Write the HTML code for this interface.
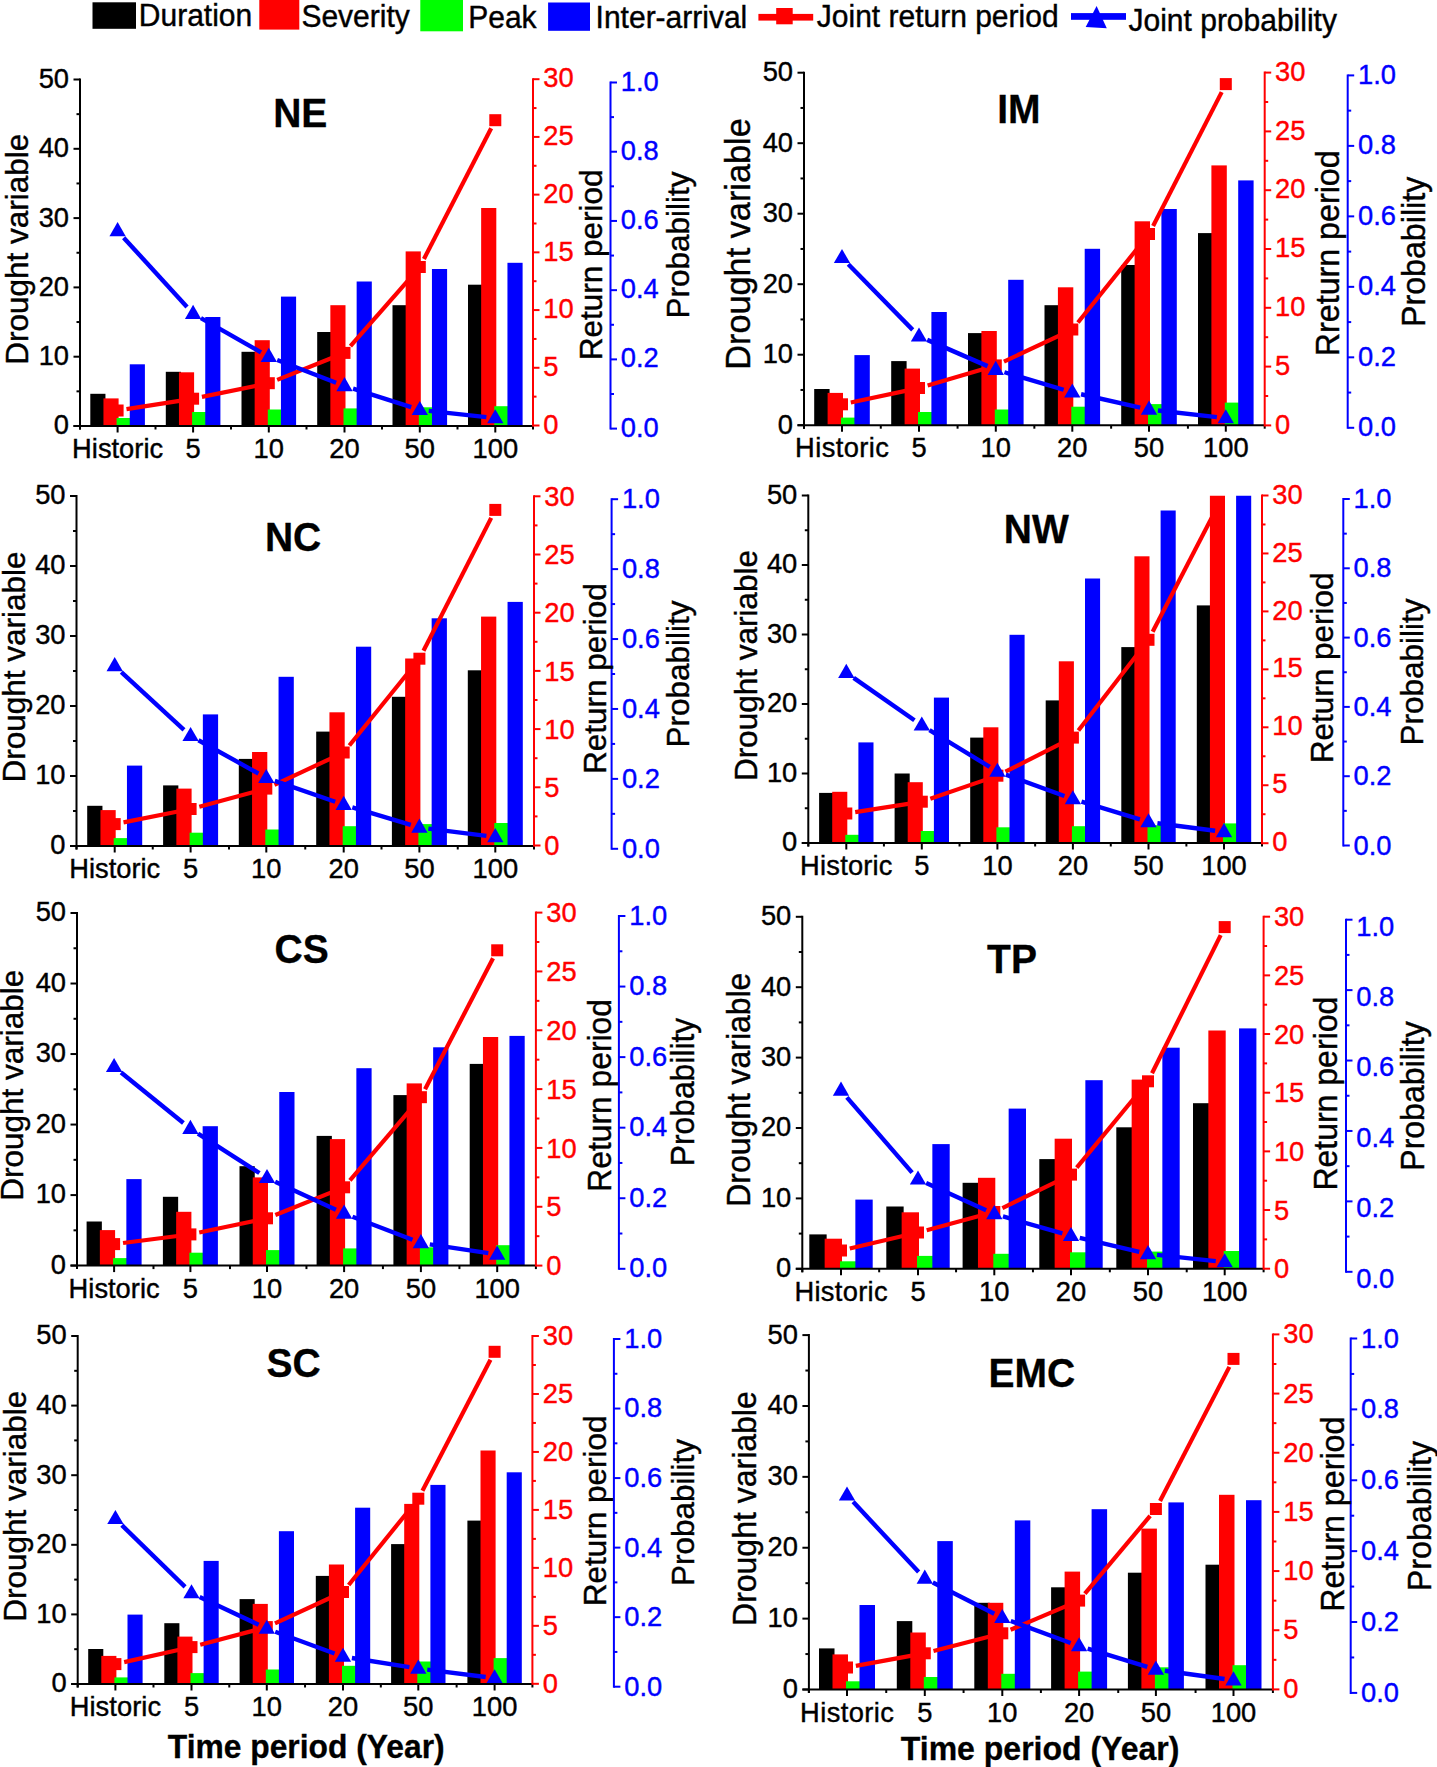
<!DOCTYPE html>
<html><head><meta charset="utf-8"><title>Drought figure</title>
<style>html,body{margin:0;padding:0;background:#fff;}body{width:1437px;height:1767px;overflow:hidden;}svg{display:block;}</style></head><body>
<svg width="1437" height="1767" viewBox="0 0 1437 1767" font-family="'Liberation Sans', Arial, Helvetica, sans-serif">
<rect x="0" y="0" width="1437" height="1767" fill="#ffffff"/>
<rect x="92.5" y="2.3" width="43.5" height="26.5" fill="#000000"/>
<text transform="translate(138.8 26) scale(1 1.02)" font-size="30" fill="#000000" text-anchor="start" stroke="#000000" stroke-width="0.4">Duration</text>
<rect x="259.3" y="0" width="40" height="29.6" fill="#ff0000"/>
<text transform="translate(301.4 26.8) scale(1 1.02)" font-size="30" fill="#000000" text-anchor="start" stroke="#000000" stroke-width="0.4">Severity</text>
<rect x="420.3" y="0" width="42.7" height="31.3" fill="#00ff00"/>
<text transform="translate(468.2 27.6) scale(1 1.02)" font-size="30" fill="#000000" text-anchor="start" stroke="#000000" stroke-width="0.4">Peak</text>
<rect x="548.1" y="2.5" width="41.9" height="28.3" fill="#0000ff"/>
<text transform="translate(595.6 28.2) scale(1 1.02)" font-size="30" fill="#000000" text-anchor="start" stroke="#000000" stroke-width="0.4">Inter-arrival</text>
<rect x="758.4" y="13.9" width="54.8" height="6.7" fill="#ff0000"/>
<rect x="776.2" y="8" width="16.5" height="16.3" fill="#ff0000"/>
<text transform="translate(816.8 27.2) scale(1 1.02)" font-size="30" fill="#000000" text-anchor="start" stroke="#000000" stroke-width="0.4">Joint return period</text>
<rect x="1071" y="13.1" width="55" height="6.7" fill="#0000ff"/>
<polygon points="1096.6,6.1 1085.7,26.9 1106.8,28.2" fill="#0000ff"/>
<text transform="translate(1128.5 30.6) scale(1 1.02)" font-size="30" fill="#000000" text-anchor="start" stroke="#000000" stroke-width="0.4">Joint probability</text>
<rect x="90.3" y="393.8" width="15.15" height="32.2" fill="#000000"/>
<rect x="103.45" y="398.4" width="15.15" height="27.6" fill="#ff0000"/>
<rect x="116.6" y="418" width="15.15" height="8" fill="#00ff00"/>
<rect x="129.75" y="364.3" width="15.15" height="61.7" fill="#0000ff"/>
<rect x="165.8" y="371.8" width="15.15" height="54.2" fill="#000000"/>
<rect x="178.95" y="372.3" width="15.15" height="53.7" fill="#ff0000"/>
<rect x="192.1" y="412" width="15.15" height="14" fill="#00ff00"/>
<rect x="205.25" y="317" width="15.15" height="109" fill="#0000ff"/>
<rect x="241.5" y="351.8" width="15.15" height="74.2" fill="#000000"/>
<rect x="254.65" y="340.2" width="15.15" height="85.8" fill="#ff0000"/>
<rect x="267.8" y="409.5" width="15.15" height="16.5" fill="#00ff00"/>
<rect x="280.95" y="296.6" width="15.15" height="129.4" fill="#0000ff"/>
<rect x="317.2" y="332" width="15.15" height="94" fill="#000000"/>
<rect x="330.35" y="305.2" width="15.15" height="120.8" fill="#ff0000"/>
<rect x="343.5" y="408.4" width="15.15" height="17.6" fill="#00ff00"/>
<rect x="356.65" y="281.5" width="15.15" height="144.5" fill="#0000ff"/>
<rect x="392.5" y="305.2" width="15.15" height="120.8" fill="#000000"/>
<rect x="405.65" y="251.4" width="15.15" height="174.6" fill="#ff0000"/>
<rect x="418.8" y="407.3" width="15.15" height="18.7" fill="#00ff00"/>
<rect x="431.95" y="269" width="15.15" height="157" fill="#0000ff"/>
<rect x="468" y="284.7" width="15.15" height="141.3" fill="#000000"/>
<rect x="481.15" y="208" width="15.15" height="218" fill="#ff0000"/>
<rect x="494.3" y="406.2" width="15.15" height="19.8" fill="#00ff00"/>
<rect x="507.45" y="262.8" width="15.15" height="163.2" fill="#0000ff"/>
<line x1="126.49" y1="409.11" x2="184.21" y2="400.09" stroke="#ff0000" stroke-width="4.2"/>
<line x1="201.92" y1="396.89" x2="259.98" y2="385.01" stroke="#ff0000" stroke-width="4.2"/>
<line x1="277.16" y1="379.86" x2="336.14" y2="356.24" stroke="#ff0000" stroke-width="4.2"/>
<line x1="350.43" y1="346.13" x2="413.87" y2="273.77" stroke="#ff0000" stroke-width="4.2"/>
<line x1="423.92" y1="259" x2="491.18" y2="128.2" stroke="#ff0000" stroke-width="4.2"/>
<rect x="111.6" y="404.5" width="12" height="12" fill="#ff0000"/>
<rect x="187.1" y="392.7" width="12" height="12" fill="#ff0000"/>
<rect x="262.8" y="377.2" width="12" height="12" fill="#ff0000"/>
<rect x="338.5" y="346.9" width="12" height="12" fill="#ff0000"/>
<rect x="413.8" y="261" width="12" height="12" fill="#ff0000"/>
<rect x="489.3" y="114.2" width="12" height="12" fill="#ff0000"/>
<line x1="123.67" y1="237.65" x2="187.03" y2="307.09" stroke="#0000ff" stroke-width="4.4"/>
<line x1="200.93" y1="318.18" x2="260.97" y2="352.29" stroke="#0000ff" stroke-width="4.4"/>
<line x1="277.2" y1="359.97" x2="336.1" y2="382.69" stroke="#0000ff" stroke-width="4.4"/>
<line x1="353.08" y1="388.66" x2="411.22" y2="407.14" stroke="#0000ff" stroke-width="4.4"/>
<line x1="428.75" y1="410.84" x2="486.35" y2="417.12" stroke="#0000ff" stroke-width="4.4"/>
<polygon points="117.6,222.09 109.45,236.21 125.75,236.21" fill="#0000ff"/>
<polygon points="193.1,304.82 184.95,318.94 201.25,318.94" fill="#0000ff"/>
<polygon points="268.8,347.82 260.65,361.94 276.95,361.94" fill="#0000ff"/>
<polygon points="344.5,377.02 336.35,391.14 352.65,391.14" fill="#0000ff"/>
<polygon points="419.8,400.96 411.65,415.07 427.95,415.07" fill="#0000ff"/>
<polygon points="495.3,409.19 487.15,423.31 503.45,423.31" fill="#0000ff"/>
<line x1="80" y1="78.5" x2="80" y2="429.5" stroke="#000000" stroke-width="2"/>
<line x1="73.5" y1="426" x2="80" y2="426" stroke="#000000" stroke-width="2"/>
<text transform="translate(69 434.4) scale(1 1.02)" font-size="27.3" fill="#000000" text-anchor="end" stroke="#000000" stroke-width="0.4">0</text>
<line x1="76.5" y1="391.35" x2="80" y2="391.35" stroke="#000000" stroke-width="2"/>
<line x1="73.5" y1="356.7" x2="80" y2="356.7" stroke="#000000" stroke-width="2"/>
<text transform="translate(69 365.1) scale(1 1.02)" font-size="27.3" fill="#000000" text-anchor="end" stroke="#000000" stroke-width="0.4">10</text>
<line x1="76.5" y1="322.05" x2="80" y2="322.05" stroke="#000000" stroke-width="2"/>
<line x1="73.5" y1="287.4" x2="80" y2="287.4" stroke="#000000" stroke-width="2"/>
<text transform="translate(69 295.8) scale(1 1.02)" font-size="27.3" fill="#000000" text-anchor="end" stroke="#000000" stroke-width="0.4">20</text>
<line x1="76.5" y1="252.75" x2="80" y2="252.75" stroke="#000000" stroke-width="2"/>
<line x1="73.5" y1="218.1" x2="80" y2="218.1" stroke="#000000" stroke-width="2"/>
<text transform="translate(69 226.5) scale(1 1.02)" font-size="27.3" fill="#000000" text-anchor="end" stroke="#000000" stroke-width="0.4">30</text>
<line x1="76.5" y1="183.45" x2="80" y2="183.45" stroke="#000000" stroke-width="2"/>
<line x1="73.5" y1="148.8" x2="80" y2="148.8" stroke="#000000" stroke-width="2"/>
<text transform="translate(69 157.2) scale(1 1.02)" font-size="27.3" fill="#000000" text-anchor="end" stroke="#000000" stroke-width="0.4">40</text>
<line x1="76.5" y1="114.15" x2="80" y2="114.15" stroke="#000000" stroke-width="2"/>
<line x1="73.5" y1="79.5" x2="80" y2="79.5" stroke="#000000" stroke-width="2"/>
<text transform="translate(69 87.9) scale(1 1.02)" font-size="27.3" fill="#000000" text-anchor="end" stroke="#000000" stroke-width="0.4">50</text>
<line x1="73.5" y1="426" x2="533" y2="426" stroke="#000000" stroke-width="2"/>
<line x1="80" y1="426" x2="80" y2="429.5" stroke="#000000" stroke-width="2"/>
<line x1="155.5" y1="426" x2="155.5" y2="429.5" stroke="#000000" stroke-width="2"/>
<line x1="231" y1="426" x2="231" y2="429.5" stroke="#000000" stroke-width="2"/>
<line x1="306.5" y1="426" x2="306.5" y2="429.5" stroke="#000000" stroke-width="2"/>
<line x1="382" y1="426" x2="382" y2="429.5" stroke="#000000" stroke-width="2"/>
<line x1="457.5" y1="426" x2="457.5" y2="429.5" stroke="#000000" stroke-width="2"/>
<line x1="533" y1="426" x2="533" y2="429.5" stroke="#000000" stroke-width="2"/>
<line x1="117.6" y1="426" x2="117.6" y2="432.5" stroke="#000000" stroke-width="2"/>
<text transform="translate(117.6 458.2) scale(1 1.02)" font-size="27.3" fill="#000000" text-anchor="middle" stroke="#000000" stroke-width="0.4" letter-spacing="0">Historic</text>
<line x1="193.1" y1="426" x2="193.1" y2="432.5" stroke="#000000" stroke-width="2"/>
<text transform="translate(193.1 458.2) scale(1 1.02)" font-size="27.3" fill="#000000" text-anchor="middle" stroke="#000000" stroke-width="0.4">5</text>
<line x1="268.8" y1="426" x2="268.8" y2="432.5" stroke="#000000" stroke-width="2"/>
<text transform="translate(268.8 458.2) scale(1 1.02)" font-size="27.3" fill="#000000" text-anchor="middle" stroke="#000000" stroke-width="0.4">10</text>
<line x1="344.5" y1="426" x2="344.5" y2="432.5" stroke="#000000" stroke-width="2"/>
<text transform="translate(344.5 458.2) scale(1 1.02)" font-size="27.3" fill="#000000" text-anchor="middle" stroke="#000000" stroke-width="0.4">20</text>
<line x1="419.8" y1="426" x2="419.8" y2="432.5" stroke="#000000" stroke-width="2"/>
<text transform="translate(419.8 458.2) scale(1 1.02)" font-size="27.3" fill="#000000" text-anchor="middle" stroke="#000000" stroke-width="0.4">50</text>
<line x1="495.3" y1="426" x2="495.3" y2="432.5" stroke="#000000" stroke-width="2"/>
<text transform="translate(495.3 458.2) scale(1 1.02)" font-size="27.3" fill="#000000" text-anchor="middle" stroke="#000000" stroke-width="0.4">100</text>
<line x1="533" y1="78.2" x2="533" y2="426.5" stroke="#ff0000" stroke-width="2"/>
<line x1="533" y1="425.5" x2="539.5" y2="425.5" stroke="#ff0000" stroke-width="2"/>
<text transform="translate(543.3 433.75) scale(1 1.02)" font-size="27.3" fill="#ff0000" text-anchor="start" stroke="#ff0000" stroke-width="0.4">0</text>
<line x1="533" y1="396.64" x2="536.5" y2="396.64" stroke="#ff0000" stroke-width="2"/>
<line x1="533" y1="367.78" x2="539.5" y2="367.78" stroke="#ff0000" stroke-width="2"/>
<text transform="translate(543.3 376.03) scale(1 1.02)" font-size="27.3" fill="#ff0000" text-anchor="start" stroke="#ff0000" stroke-width="0.4">5</text>
<line x1="533" y1="338.93" x2="536.5" y2="338.93" stroke="#ff0000" stroke-width="2"/>
<line x1="533" y1="310.07" x2="539.5" y2="310.07" stroke="#ff0000" stroke-width="2"/>
<text transform="translate(543.3 318.32) scale(1 1.02)" font-size="27.3" fill="#ff0000" text-anchor="start" stroke="#ff0000" stroke-width="0.4">10</text>
<line x1="533" y1="281.21" x2="536.5" y2="281.21" stroke="#ff0000" stroke-width="2"/>
<line x1="533" y1="252.35" x2="539.5" y2="252.35" stroke="#ff0000" stroke-width="2"/>
<text transform="translate(543.3 260.6) scale(1 1.02)" font-size="27.3" fill="#ff0000" text-anchor="start" stroke="#ff0000" stroke-width="0.4">15</text>
<line x1="533" y1="223.49" x2="536.5" y2="223.49" stroke="#ff0000" stroke-width="2"/>
<line x1="533" y1="194.63" x2="539.5" y2="194.63" stroke="#ff0000" stroke-width="2"/>
<text transform="translate(543.3 202.88) scale(1 1.02)" font-size="27.3" fill="#ff0000" text-anchor="start" stroke="#ff0000" stroke-width="0.4">20</text>
<line x1="533" y1="165.77" x2="536.5" y2="165.77" stroke="#ff0000" stroke-width="2"/>
<line x1="533" y1="136.92" x2="539.5" y2="136.92" stroke="#ff0000" stroke-width="2"/>
<text transform="translate(543.3 145.17) scale(1 1.02)" font-size="27.3" fill="#ff0000" text-anchor="start" stroke="#ff0000" stroke-width="0.4">25</text>
<line x1="533" y1="108.06" x2="536.5" y2="108.06" stroke="#ff0000" stroke-width="2"/>
<line x1="533" y1="79.2" x2="539.5" y2="79.2" stroke="#ff0000" stroke-width="2"/>
<text transform="translate(543.3 87.45) scale(1 1.02)" font-size="27.3" fill="#ff0000" text-anchor="start" stroke="#ff0000" stroke-width="0.4">30</text>
<line x1="610.5" y1="81.5" x2="610.5" y2="429.6" stroke="#0000ff" stroke-width="2"/>
<line x1="610.5" y1="428.6" x2="617" y2="428.6" stroke="#0000ff" stroke-width="2"/>
<text transform="translate(620.8 436.7) scale(1 1.02)" font-size="27.3" fill="#0000ff" text-anchor="start" stroke="#0000ff" stroke-width="0.4">0.0</text>
<line x1="610.5" y1="393.99" x2="614" y2="393.99" stroke="#0000ff" stroke-width="2"/>
<line x1="610.5" y1="359.38" x2="617" y2="359.38" stroke="#0000ff" stroke-width="2"/>
<text transform="translate(620.8 367.48) scale(1 1.02)" font-size="27.3" fill="#0000ff" text-anchor="start" stroke="#0000ff" stroke-width="0.4">0.2</text>
<line x1="610.5" y1="324.77" x2="614" y2="324.77" stroke="#0000ff" stroke-width="2"/>
<line x1="610.5" y1="290.16" x2="617" y2="290.16" stroke="#0000ff" stroke-width="2"/>
<text transform="translate(620.8 298.26) scale(1 1.02)" font-size="27.3" fill="#0000ff" text-anchor="start" stroke="#0000ff" stroke-width="0.4">0.4</text>
<line x1="610.5" y1="255.55" x2="614" y2="255.55" stroke="#0000ff" stroke-width="2"/>
<line x1="610.5" y1="220.94" x2="617" y2="220.94" stroke="#0000ff" stroke-width="2"/>
<text transform="translate(620.8 229.04) scale(1 1.02)" font-size="27.3" fill="#0000ff" text-anchor="start" stroke="#0000ff" stroke-width="0.4">0.6</text>
<line x1="610.5" y1="186.33" x2="614" y2="186.33" stroke="#0000ff" stroke-width="2"/>
<line x1="610.5" y1="151.72" x2="617" y2="151.72" stroke="#0000ff" stroke-width="2"/>
<text transform="translate(620.8 159.82) scale(1 1.02)" font-size="27.3" fill="#0000ff" text-anchor="start" stroke="#0000ff" stroke-width="0.4">0.8</text>
<line x1="610.5" y1="117.11" x2="614" y2="117.11" stroke="#0000ff" stroke-width="2"/>
<line x1="610.5" y1="82.5" x2="617" y2="82.5" stroke="#0000ff" stroke-width="2"/>
<text transform="translate(620.8 90.6) scale(1 1.02)" font-size="27.3" fill="#0000ff" text-anchor="start" stroke="#0000ff" stroke-width="0.4">1.0</text>
<text transform="translate(27.7 249.2) rotate(-90) scale(1 1.02)" font-size="31.5" fill="#000000" text-anchor="middle" stroke="#000000" stroke-width="0.4">Drought variable</text>
<text transform="translate(601.9 264.8) rotate(-90) scale(1 1.02)" font-size="31.5" fill="#000000" text-anchor="middle" stroke="#000000" stroke-width="0.4">Return period</text>
<text transform="translate(688.6 245) rotate(-90) scale(1 1.02)" font-size="31.5" fill="#000000" text-anchor="middle" stroke="#000000" stroke-width="0.4">Probability</text>
<text transform="translate(273.2 127.1) scale(1 1.02)" font-size="39" fill="#000000" text-anchor="start" font-weight="bold" stroke="#000000" stroke-width="0.3">NE</text>
<rect x="87.2" y="805.8" width="15.25" height="40.2" fill="#000000"/>
<rect x="100.45" y="810.1" width="15.25" height="35.9" fill="#ff0000"/>
<rect x="113.7" y="838.1" width="15.25" height="7.9" fill="#00ff00"/>
<rect x="126.95" y="765.6" width="15.25" height="80.4" fill="#0000ff"/>
<rect x="163.1" y="785.4" width="15.25" height="60.6" fill="#000000"/>
<rect x="176.35" y="788.6" width="15.25" height="57.4" fill="#ff0000"/>
<rect x="189.6" y="832.7" width="15.25" height="13.3" fill="#00ff00"/>
<rect x="202.85" y="714.4" width="15.25" height="131.6" fill="#0000ff"/>
<rect x="238.8" y="758.9" width="15.25" height="87.1" fill="#000000"/>
<rect x="252.05" y="752" width="15.25" height="94" fill="#ff0000"/>
<rect x="265.3" y="829.5" width="15.25" height="16.5" fill="#00ff00"/>
<rect x="278.55" y="676.8" width="15.25" height="169.2" fill="#0000ff"/>
<rect x="316.2" y="731.6" width="15.25" height="114.4" fill="#000000"/>
<rect x="329.45" y="712.3" width="15.25" height="133.7" fill="#ff0000"/>
<rect x="342.7" y="826.2" width="15.25" height="19.8" fill="#00ff00"/>
<rect x="355.95" y="646.7" width="15.25" height="199.3" fill="#0000ff"/>
<rect x="391.9" y="696.8" width="15.25" height="149.2" fill="#000000"/>
<rect x="405.15" y="658.5" width="15.25" height="187.5" fill="#ff0000"/>
<rect x="418.4" y="824.1" width="15.25" height="21.9" fill="#00ff00"/>
<rect x="431.65" y="618.3" width="15.25" height="227.7" fill="#0000ff"/>
<rect x="467.8" y="670.3" width="15.25" height="175.7" fill="#000000"/>
<rect x="481.05" y="616.6" width="15.25" height="229.4" fill="#ff0000"/>
<rect x="494.3" y="823" width="15.25" height="23" fill="#00ff00"/>
<rect x="507.55" y="601.9" width="15.25" height="244.1" fill="#0000ff"/>
<line x1="123.53" y1="822.34" x2="181.77" y2="810.76" stroke="#ff0000" stroke-width="4.2"/>
<line x1="199.29" y1="806.66" x2="257.61" y2="790.94" stroke="#ff0000" stroke-width="4.2"/>
<line x1="274.46" y1="784.8" x2="335.54" y2="756.3" stroke="#ff0000" stroke-width="4.2"/>
<line x1="349.35" y1="745.5" x2="413.75" y2="665.7" stroke="#ff0000" stroke-width="4.2"/>
<line x1="423.49" y1="650.68" x2="491.21" y2="517.92" stroke="#ff0000" stroke-width="4.2"/>
<rect x="108.7" y="818.1" width="12" height="12" fill="#ff0000"/>
<rect x="184.6" y="803" width="12" height="12" fill="#ff0000"/>
<rect x="260.3" y="782.6" width="12" height="12" fill="#ff0000"/>
<rect x="337.7" y="746.5" width="12" height="12" fill="#ff0000"/>
<rect x="413.4" y="652.7" width="12" height="12" fill="#ff0000"/>
<rect x="489.3" y="503.9" width="12" height="12" fill="#ff0000"/>
<line x1="121.32" y1="672.1" x2="183.98" y2="729.8" stroke="#0000ff" stroke-width="4.4"/>
<line x1="198.47" y1="740.26" x2="258.43" y2="773.5" stroke="#0000ff" stroke-width="4.4"/>
<line x1="274.8" y1="780.81" x2="335.2" y2="801.75" stroke="#0000ff" stroke-width="4.4"/>
<line x1="352.32" y1="807.3" x2="410.78" y2="824.93" stroke="#0000ff" stroke-width="4.4"/>
<line x1="428.33" y1="828.65" x2="486.37" y2="835.89" stroke="#0000ff" stroke-width="4.4"/>
<polygon points="114.7,657.09 106.55,671.21 122.85,671.21" fill="#0000ff"/>
<polygon points="190.6,726.99 182.45,741.11 198.75,741.11" fill="#0000ff"/>
<polygon points="266.3,768.96 258.15,783.07 274.45,783.07" fill="#0000ff"/>
<polygon points="343.7,795.79 335.55,809.91 351.85,809.91" fill="#0000ff"/>
<polygon points="419.4,818.62 411.25,832.74 427.55,832.74" fill="#0000ff"/>
<polygon points="495.3,828.09 487.15,842.21 503.45,842.21" fill="#0000ff"/>
<line x1="76.5" y1="495" x2="76.5" y2="849.5" stroke="#000000" stroke-width="2"/>
<line x1="70" y1="846" x2="76.5" y2="846" stroke="#000000" stroke-width="2"/>
<text transform="translate(65.5 854.4) scale(1 1.02)" font-size="27.3" fill="#000000" text-anchor="end" stroke="#000000" stroke-width="0.4">0</text>
<line x1="73" y1="811" x2="76.5" y2="811" stroke="#000000" stroke-width="2"/>
<line x1="70" y1="776" x2="76.5" y2="776" stroke="#000000" stroke-width="2"/>
<text transform="translate(65.5 784.4) scale(1 1.02)" font-size="27.3" fill="#000000" text-anchor="end" stroke="#000000" stroke-width="0.4">10</text>
<line x1="73" y1="741" x2="76.5" y2="741" stroke="#000000" stroke-width="2"/>
<line x1="70" y1="706" x2="76.5" y2="706" stroke="#000000" stroke-width="2"/>
<text transform="translate(65.5 714.4) scale(1 1.02)" font-size="27.3" fill="#000000" text-anchor="end" stroke="#000000" stroke-width="0.4">20</text>
<line x1="73" y1="671" x2="76.5" y2="671" stroke="#000000" stroke-width="2"/>
<line x1="70" y1="636" x2="76.5" y2="636" stroke="#000000" stroke-width="2"/>
<text transform="translate(65.5 644.4) scale(1 1.02)" font-size="27.3" fill="#000000" text-anchor="end" stroke="#000000" stroke-width="0.4">30</text>
<line x1="73" y1="601" x2="76.5" y2="601" stroke="#000000" stroke-width="2"/>
<line x1="70" y1="566" x2="76.5" y2="566" stroke="#000000" stroke-width="2"/>
<text transform="translate(65.5 574.4) scale(1 1.02)" font-size="27.3" fill="#000000" text-anchor="end" stroke="#000000" stroke-width="0.4">40</text>
<line x1="73" y1="531" x2="76.5" y2="531" stroke="#000000" stroke-width="2"/>
<line x1="70" y1="496" x2="76.5" y2="496" stroke="#000000" stroke-width="2"/>
<text transform="translate(65.5 504.4) scale(1 1.02)" font-size="27.3" fill="#000000" text-anchor="end" stroke="#000000" stroke-width="0.4">50</text>
<line x1="70" y1="846" x2="534" y2="846" stroke="#000000" stroke-width="2"/>
<line x1="76.5" y1="846" x2="76.5" y2="849.5" stroke="#000000" stroke-width="2"/>
<line x1="152.75" y1="846" x2="152.75" y2="849.5" stroke="#000000" stroke-width="2"/>
<line x1="229" y1="846" x2="229" y2="849.5" stroke="#000000" stroke-width="2"/>
<line x1="305.25" y1="846" x2="305.25" y2="849.5" stroke="#000000" stroke-width="2"/>
<line x1="381.5" y1="846" x2="381.5" y2="849.5" stroke="#000000" stroke-width="2"/>
<line x1="457.75" y1="846" x2="457.75" y2="849.5" stroke="#000000" stroke-width="2"/>
<line x1="534" y1="846" x2="534" y2="849.5" stroke="#000000" stroke-width="2"/>
<line x1="114.7" y1="846" x2="114.7" y2="852.5" stroke="#000000" stroke-width="2"/>
<text transform="translate(114.7 878.2) scale(1 1.02)" font-size="27.3" fill="#000000" text-anchor="middle" stroke="#000000" stroke-width="0.4" letter-spacing="0">Historic</text>
<line x1="190.6" y1="846" x2="190.6" y2="852.5" stroke="#000000" stroke-width="2"/>
<text transform="translate(190.6 878.2) scale(1 1.02)" font-size="27.3" fill="#000000" text-anchor="middle" stroke="#000000" stroke-width="0.4">5</text>
<line x1="266.3" y1="846" x2="266.3" y2="852.5" stroke="#000000" stroke-width="2"/>
<text transform="translate(266.3 878.2) scale(1 1.02)" font-size="27.3" fill="#000000" text-anchor="middle" stroke="#000000" stroke-width="0.4">10</text>
<line x1="343.7" y1="846" x2="343.7" y2="852.5" stroke="#000000" stroke-width="2"/>
<text transform="translate(343.7 878.2) scale(1 1.02)" font-size="27.3" fill="#000000" text-anchor="middle" stroke="#000000" stroke-width="0.4">20</text>
<line x1="419.4" y1="846" x2="419.4" y2="852.5" stroke="#000000" stroke-width="2"/>
<text transform="translate(419.4 878.2) scale(1 1.02)" font-size="27.3" fill="#000000" text-anchor="middle" stroke="#000000" stroke-width="0.4">50</text>
<line x1="495.3" y1="846" x2="495.3" y2="852.5" stroke="#000000" stroke-width="2"/>
<text transform="translate(495.3 878.2) scale(1 1.02)" font-size="27.3" fill="#000000" text-anchor="middle" stroke="#000000" stroke-width="0.4">100</text>
<line x1="534" y1="495.3" x2="534" y2="846.5" stroke="#ff0000" stroke-width="2"/>
<line x1="534" y1="845.5" x2="540.5" y2="845.5" stroke="#ff0000" stroke-width="2"/>
<text transform="translate(544.3 855.1) scale(1 1.02)" font-size="27.3" fill="#ff0000" text-anchor="start" stroke="#ff0000" stroke-width="0.4">0</text>
<line x1="534" y1="816.4" x2="537.5" y2="816.4" stroke="#ff0000" stroke-width="2"/>
<line x1="534" y1="787.3" x2="540.5" y2="787.3" stroke="#ff0000" stroke-width="2"/>
<text transform="translate(544.3 796.9) scale(1 1.02)" font-size="27.3" fill="#ff0000" text-anchor="start" stroke="#ff0000" stroke-width="0.4">5</text>
<line x1="534" y1="758.2" x2="537.5" y2="758.2" stroke="#ff0000" stroke-width="2"/>
<line x1="534" y1="729.1" x2="540.5" y2="729.1" stroke="#ff0000" stroke-width="2"/>
<text transform="translate(544.3 738.7) scale(1 1.02)" font-size="27.3" fill="#ff0000" text-anchor="start" stroke="#ff0000" stroke-width="0.4">10</text>
<line x1="534" y1="700" x2="537.5" y2="700" stroke="#ff0000" stroke-width="2"/>
<line x1="534" y1="670.9" x2="540.5" y2="670.9" stroke="#ff0000" stroke-width="2"/>
<text transform="translate(544.3 680.5) scale(1 1.02)" font-size="27.3" fill="#ff0000" text-anchor="start" stroke="#ff0000" stroke-width="0.4">15</text>
<line x1="534" y1="641.8" x2="537.5" y2="641.8" stroke="#ff0000" stroke-width="2"/>
<line x1="534" y1="612.7" x2="540.5" y2="612.7" stroke="#ff0000" stroke-width="2"/>
<text transform="translate(544.3 622.3) scale(1 1.02)" font-size="27.3" fill="#ff0000" text-anchor="start" stroke="#ff0000" stroke-width="0.4">20</text>
<line x1="534" y1="583.6" x2="537.5" y2="583.6" stroke="#ff0000" stroke-width="2"/>
<line x1="534" y1="554.5" x2="540.5" y2="554.5" stroke="#ff0000" stroke-width="2"/>
<text transform="translate(544.3 564.1) scale(1 1.02)" font-size="27.3" fill="#ff0000" text-anchor="start" stroke="#ff0000" stroke-width="0.4">25</text>
<line x1="534" y1="525.4" x2="537.5" y2="525.4" stroke="#ff0000" stroke-width="2"/>
<line x1="534" y1="496.3" x2="540.5" y2="496.3" stroke="#ff0000" stroke-width="2"/>
<text transform="translate(544.3 505.9) scale(1 1.02)" font-size="27.3" fill="#ff0000" text-anchor="start" stroke="#ff0000" stroke-width="0.4">30</text>
<line x1="611.6" y1="498.2" x2="611.6" y2="849.8" stroke="#0000ff" stroke-width="2"/>
<line x1="611.6" y1="848.8" x2="618.1" y2="848.8" stroke="#0000ff" stroke-width="2"/>
<text transform="translate(621.9 857.9) scale(1 1.02)" font-size="27.3" fill="#0000ff" text-anchor="start" stroke="#0000ff" stroke-width="0.4">0.0</text>
<line x1="611.6" y1="813.84" x2="615.1" y2="813.84" stroke="#0000ff" stroke-width="2"/>
<line x1="611.6" y1="778.88" x2="618.1" y2="778.88" stroke="#0000ff" stroke-width="2"/>
<text transform="translate(621.9 787.98) scale(1 1.02)" font-size="27.3" fill="#0000ff" text-anchor="start" stroke="#0000ff" stroke-width="0.4">0.2</text>
<line x1="611.6" y1="743.92" x2="615.1" y2="743.92" stroke="#0000ff" stroke-width="2"/>
<line x1="611.6" y1="708.96" x2="618.1" y2="708.96" stroke="#0000ff" stroke-width="2"/>
<text transform="translate(621.9 718.06) scale(1 1.02)" font-size="27.3" fill="#0000ff" text-anchor="start" stroke="#0000ff" stroke-width="0.4">0.4</text>
<line x1="611.6" y1="674" x2="615.1" y2="674" stroke="#0000ff" stroke-width="2"/>
<line x1="611.6" y1="639.04" x2="618.1" y2="639.04" stroke="#0000ff" stroke-width="2"/>
<text transform="translate(621.9 648.14) scale(1 1.02)" font-size="27.3" fill="#0000ff" text-anchor="start" stroke="#0000ff" stroke-width="0.4">0.6</text>
<line x1="611.6" y1="604.08" x2="615.1" y2="604.08" stroke="#0000ff" stroke-width="2"/>
<line x1="611.6" y1="569.12" x2="618.1" y2="569.12" stroke="#0000ff" stroke-width="2"/>
<text transform="translate(621.9 578.22) scale(1 1.02)" font-size="27.3" fill="#0000ff" text-anchor="start" stroke="#0000ff" stroke-width="0.4">0.8</text>
<line x1="611.6" y1="534.16" x2="615.1" y2="534.16" stroke="#0000ff" stroke-width="2"/>
<line x1="611.6" y1="499.2" x2="618.1" y2="499.2" stroke="#0000ff" stroke-width="2"/>
<text transform="translate(621.9 508.3) scale(1 1.02)" font-size="27.3" fill="#0000ff" text-anchor="start" stroke="#0000ff" stroke-width="0.4">1.0</text>
<text transform="translate(24.6 667) rotate(-90) scale(1 1.02)" font-size="31.5" fill="#000000" text-anchor="middle" stroke="#000000" stroke-width="0.4">Drought variable</text>
<text transform="translate(605.5 678.6) rotate(-90) scale(1 1.02)" font-size="31.5" fill="#000000" text-anchor="middle" stroke="#000000" stroke-width="0.4">Return period</text>
<text transform="translate(688.6 674) rotate(-90) scale(1 1.02)" font-size="31.5" fill="#000000" text-anchor="middle" stroke="#000000" stroke-width="0.4">Probability</text>
<text transform="translate(264.9 551) scale(1 1.02)" font-size="39" fill="#000000" text-anchor="start" font-weight="bold" stroke="#000000" stroke-width="0.3">NC</text>
<rect x="86.6" y="1221.5" width="15.25" height="44.1" fill="#000000"/>
<rect x="99.85" y="1230.1" width="15.25" height="35.5" fill="#ff0000"/>
<rect x="113.1" y="1258.1" width="15.25" height="7.5" fill="#00ff00"/>
<rect x="126.35" y="1179.1" width="15.25" height="86.5" fill="#0000ff"/>
<rect x="162.9" y="1196.8" width="15.25" height="68.8" fill="#000000"/>
<rect x="176.15" y="1211.8" width="15.25" height="53.8" fill="#ff0000"/>
<rect x="189.4" y="1252.7" width="15.25" height="12.9" fill="#00ff00"/>
<rect x="202.65" y="1126.2" width="15.25" height="139.4" fill="#0000ff"/>
<rect x="239.5" y="1166.2" width="15.25" height="99.4" fill="#000000"/>
<rect x="252.75" y="1177.4" width="15.25" height="88.2" fill="#ff0000"/>
<rect x="266" y="1250.1" width="15.25" height="15.5" fill="#00ff00"/>
<rect x="279.25" y="1092" width="15.25" height="173.6" fill="#0000ff"/>
<rect x="316.6" y="1135.9" width="15.25" height="129.7" fill="#000000"/>
<rect x="329.85" y="1139.1" width="15.25" height="126.5" fill="#ff0000"/>
<rect x="343.1" y="1248.4" width="15.25" height="17.2" fill="#00ff00"/>
<rect x="356.35" y="1068.2" width="15.25" height="197.4" fill="#0000ff"/>
<rect x="393.4" y="1095.1" width="15.25" height="170.5" fill="#000000"/>
<rect x="406.65" y="1083.4" width="15.25" height="182.2" fill="#ff0000"/>
<rect x="419.9" y="1247.3" width="15.25" height="18.3" fill="#00ff00"/>
<rect x="433.15" y="1047.3" width="15.25" height="218.3" fill="#0000ff"/>
<rect x="469.7" y="1063.9" width="15.25" height="201.7" fill="#000000"/>
<rect x="482.95" y="1037" width="15.25" height="228.6" fill="#ff0000"/>
<rect x="496.2" y="1245.2" width="15.25" height="20.4" fill="#00ff00"/>
<rect x="509.45" y="1035.9" width="15.25" height="229.7" fill="#0000ff"/>
<line x1="123.03" y1="1242.96" x2="181.47" y2="1235.54" stroke="#ff0000" stroke-width="4.2"/>
<line x1="199.21" y1="1232.55" x2="258.19" y2="1220.15" stroke="#ff0000" stroke-width="4.2"/>
<line x1="275.35" y1="1214.94" x2="335.75" y2="1190.66" stroke="#ff0000" stroke-width="4.2"/>
<line x1="349.94" y1="1180.45" x2="415.06" y2="1104.05" stroke="#ff0000" stroke-width="4.2"/>
<line x1="425.05" y1="1089.21" x2="493.05" y2="958.29" stroke="#ff0000" stroke-width="4.2"/>
<rect x="108.1" y="1238.1" width="12" height="12" fill="#ff0000"/>
<rect x="184.4" y="1228.4" width="12" height="12" fill="#ff0000"/>
<rect x="261" y="1212.3" width="12" height="12" fill="#ff0000"/>
<rect x="338.1" y="1181.3" width="12" height="12" fill="#ff0000"/>
<rect x="414.9" y="1091.2" width="12" height="12" fill="#ff0000"/>
<rect x="491.2" y="944.3" width="12" height="12" fill="#ff0000"/>
<line x1="121.09" y1="1072.57" x2="183.41" y2="1123.07" stroke="#0000ff" stroke-width="4.4"/>
<line x1="197.98" y1="1133.59" x2="259.42" y2="1173.01" stroke="#0000ff" stroke-width="4.4"/>
<line x1="275.17" y1="1181.65" x2="335.93" y2="1209.75" stroke="#0000ff" stroke-width="4.4"/>
<line x1="352.5" y1="1216.76" x2="412.5" y2="1239.78" stroke="#0000ff" stroke-width="4.4"/>
<line x1="429.8" y1="1244.34" x2="488.3" y2="1253.13" stroke="#0000ff" stroke-width="4.4"/>
<polygon points="114.1,1057.99 105.95,1072.11 122.25,1072.11" fill="#0000ff"/>
<polygon points="190.4,1119.82 182.25,1133.94 198.55,1133.94" fill="#0000ff"/>
<polygon points="267,1168.96 258.85,1183.07 275.15,1183.07" fill="#0000ff"/>
<polygon points="344.1,1204.62 335.95,1218.74 352.25,1218.74" fill="#0000ff"/>
<polygon points="420.9,1234.09 412.75,1248.21 429.05,1248.21" fill="#0000ff"/>
<polygon points="497.2,1245.56 489.05,1259.67 505.35,1259.67" fill="#0000ff"/>
<line x1="77" y1="912" x2="77" y2="1269.1" stroke="#000000" stroke-width="2"/>
<line x1="70.5" y1="1265.6" x2="77" y2="1265.6" stroke="#000000" stroke-width="2"/>
<text transform="translate(66 1274) scale(1 1.02)" font-size="27.3" fill="#000000" text-anchor="end" stroke="#000000" stroke-width="0.4">0</text>
<line x1="73.5" y1="1230.34" x2="77" y2="1230.34" stroke="#000000" stroke-width="2"/>
<line x1="70.5" y1="1195.08" x2="77" y2="1195.08" stroke="#000000" stroke-width="2"/>
<text transform="translate(66 1203.48) scale(1 1.02)" font-size="27.3" fill="#000000" text-anchor="end" stroke="#000000" stroke-width="0.4">10</text>
<line x1="73.5" y1="1159.82" x2="77" y2="1159.82" stroke="#000000" stroke-width="2"/>
<line x1="70.5" y1="1124.56" x2="77" y2="1124.56" stroke="#000000" stroke-width="2"/>
<text transform="translate(66 1132.96) scale(1 1.02)" font-size="27.3" fill="#000000" text-anchor="end" stroke="#000000" stroke-width="0.4">20</text>
<line x1="73.5" y1="1089.3" x2="77" y2="1089.3" stroke="#000000" stroke-width="2"/>
<line x1="70.5" y1="1054.04" x2="77" y2="1054.04" stroke="#000000" stroke-width="2"/>
<text transform="translate(66 1062.44) scale(1 1.02)" font-size="27.3" fill="#000000" text-anchor="end" stroke="#000000" stroke-width="0.4">30</text>
<line x1="73.5" y1="1018.78" x2="77" y2="1018.78" stroke="#000000" stroke-width="2"/>
<line x1="70.5" y1="983.52" x2="77" y2="983.52" stroke="#000000" stroke-width="2"/>
<text transform="translate(66 991.92) scale(1 1.02)" font-size="27.3" fill="#000000" text-anchor="end" stroke="#000000" stroke-width="0.4">40</text>
<line x1="73.5" y1="948.26" x2="77" y2="948.26" stroke="#000000" stroke-width="2"/>
<line x1="70.5" y1="913" x2="77" y2="913" stroke="#000000" stroke-width="2"/>
<text transform="translate(66 921.4) scale(1 1.02)" font-size="27.3" fill="#000000" text-anchor="end" stroke="#000000" stroke-width="0.4">50</text>
<line x1="70.5" y1="1265.6" x2="535.9" y2="1265.6" stroke="#000000" stroke-width="2"/>
<line x1="77" y1="1265.6" x2="77" y2="1269.1" stroke="#000000" stroke-width="2"/>
<line x1="153.48" y1="1265.6" x2="153.48" y2="1269.1" stroke="#000000" stroke-width="2"/>
<line x1="229.97" y1="1265.6" x2="229.97" y2="1269.1" stroke="#000000" stroke-width="2"/>
<line x1="306.45" y1="1265.6" x2="306.45" y2="1269.1" stroke="#000000" stroke-width="2"/>
<line x1="382.93" y1="1265.6" x2="382.93" y2="1269.1" stroke="#000000" stroke-width="2"/>
<line x1="459.42" y1="1265.6" x2="459.42" y2="1269.1" stroke="#000000" stroke-width="2"/>
<line x1="535.9" y1="1265.6" x2="535.9" y2="1269.1" stroke="#000000" stroke-width="2"/>
<line x1="114.1" y1="1265.6" x2="114.1" y2="1272.1" stroke="#000000" stroke-width="2"/>
<text transform="translate(114.1 1297.8) scale(1 1.02)" font-size="27.3" fill="#000000" text-anchor="middle" stroke="#000000" stroke-width="0.4" letter-spacing="0">Historic</text>
<line x1="190.4" y1="1265.6" x2="190.4" y2="1272.1" stroke="#000000" stroke-width="2"/>
<text transform="translate(190.4 1297.8) scale(1 1.02)" font-size="27.3" fill="#000000" text-anchor="middle" stroke="#000000" stroke-width="0.4">5</text>
<line x1="267" y1="1265.6" x2="267" y2="1272.1" stroke="#000000" stroke-width="2"/>
<text transform="translate(267 1297.8) scale(1 1.02)" font-size="27.3" fill="#000000" text-anchor="middle" stroke="#000000" stroke-width="0.4">10</text>
<line x1="344.1" y1="1265.6" x2="344.1" y2="1272.1" stroke="#000000" stroke-width="2"/>
<text transform="translate(344.1 1297.8) scale(1 1.02)" font-size="27.3" fill="#000000" text-anchor="middle" stroke="#000000" stroke-width="0.4">20</text>
<line x1="420.9" y1="1265.6" x2="420.9" y2="1272.1" stroke="#000000" stroke-width="2"/>
<text transform="translate(420.9 1297.8) scale(1 1.02)" font-size="27.3" fill="#000000" text-anchor="middle" stroke="#000000" stroke-width="0.4">50</text>
<line x1="497.2" y1="1265.6" x2="497.2" y2="1272.1" stroke="#000000" stroke-width="2"/>
<text transform="translate(497.2 1297.8) scale(1 1.02)" font-size="27.3" fill="#000000" text-anchor="middle" stroke="#000000" stroke-width="0.4">100</text>
<line x1="535.9" y1="911.6" x2="535.9" y2="1266.6" stroke="#ff0000" stroke-width="2"/>
<line x1="535.9" y1="1265.6" x2="542.4" y2="1265.6" stroke="#ff0000" stroke-width="2"/>
<text transform="translate(546.2 1275.2) scale(1 1.02)" font-size="27.3" fill="#ff0000" text-anchor="start" stroke="#ff0000" stroke-width="0.4">0</text>
<line x1="535.9" y1="1236.18" x2="539.4" y2="1236.18" stroke="#ff0000" stroke-width="2"/>
<line x1="535.9" y1="1206.77" x2="542.4" y2="1206.77" stroke="#ff0000" stroke-width="2"/>
<text transform="translate(546.2 1216.37) scale(1 1.02)" font-size="27.3" fill="#ff0000" text-anchor="start" stroke="#ff0000" stroke-width="0.4">5</text>
<line x1="535.9" y1="1177.35" x2="539.4" y2="1177.35" stroke="#ff0000" stroke-width="2"/>
<line x1="535.9" y1="1147.93" x2="542.4" y2="1147.93" stroke="#ff0000" stroke-width="2"/>
<text transform="translate(546.2 1157.53) scale(1 1.02)" font-size="27.3" fill="#ff0000" text-anchor="start" stroke="#ff0000" stroke-width="0.4">10</text>
<line x1="535.9" y1="1118.52" x2="539.4" y2="1118.52" stroke="#ff0000" stroke-width="2"/>
<line x1="535.9" y1="1089.1" x2="542.4" y2="1089.1" stroke="#ff0000" stroke-width="2"/>
<text transform="translate(546.2 1098.7) scale(1 1.02)" font-size="27.3" fill="#ff0000" text-anchor="start" stroke="#ff0000" stroke-width="0.4">15</text>
<line x1="535.9" y1="1059.68" x2="539.4" y2="1059.68" stroke="#ff0000" stroke-width="2"/>
<line x1="535.9" y1="1030.27" x2="542.4" y2="1030.27" stroke="#ff0000" stroke-width="2"/>
<text transform="translate(546.2 1039.87) scale(1 1.02)" font-size="27.3" fill="#ff0000" text-anchor="start" stroke="#ff0000" stroke-width="0.4">20</text>
<line x1="535.9" y1="1000.85" x2="539.4" y2="1000.85" stroke="#ff0000" stroke-width="2"/>
<line x1="535.9" y1="971.43" x2="542.4" y2="971.43" stroke="#ff0000" stroke-width="2"/>
<text transform="translate(546.2 981.03) scale(1 1.02)" font-size="27.3" fill="#ff0000" text-anchor="start" stroke="#ff0000" stroke-width="0.4">25</text>
<line x1="535.9" y1="942.02" x2="539.4" y2="942.02" stroke="#ff0000" stroke-width="2"/>
<line x1="535.9" y1="912.6" x2="542.4" y2="912.6" stroke="#ff0000" stroke-width="2"/>
<text transform="translate(546.2 922.2) scale(1 1.02)" font-size="27.3" fill="#ff0000" text-anchor="start" stroke="#ff0000" stroke-width="0.4">30</text>
<line x1="618.9" y1="915" x2="618.9" y2="1269.8" stroke="#0000ff" stroke-width="2"/>
<line x1="618.9" y1="1268.8" x2="625.4" y2="1268.8" stroke="#0000ff" stroke-width="2"/>
<text transform="translate(629.2 1277.3) scale(1 1.02)" font-size="27.3" fill="#0000ff" text-anchor="start" stroke="#0000ff" stroke-width="0.4">0.0</text>
<line x1="618.9" y1="1233.52" x2="622.4" y2="1233.52" stroke="#0000ff" stroke-width="2"/>
<line x1="618.9" y1="1198.24" x2="625.4" y2="1198.24" stroke="#0000ff" stroke-width="2"/>
<text transform="translate(629.2 1206.74) scale(1 1.02)" font-size="27.3" fill="#0000ff" text-anchor="start" stroke="#0000ff" stroke-width="0.4">0.2</text>
<line x1="618.9" y1="1162.96" x2="622.4" y2="1162.96" stroke="#0000ff" stroke-width="2"/>
<line x1="618.9" y1="1127.68" x2="625.4" y2="1127.68" stroke="#0000ff" stroke-width="2"/>
<text transform="translate(629.2 1136.18) scale(1 1.02)" font-size="27.3" fill="#0000ff" text-anchor="start" stroke="#0000ff" stroke-width="0.4">0.4</text>
<line x1="618.9" y1="1092.4" x2="622.4" y2="1092.4" stroke="#0000ff" stroke-width="2"/>
<line x1="618.9" y1="1057.12" x2="625.4" y2="1057.12" stroke="#0000ff" stroke-width="2"/>
<text transform="translate(629.2 1065.62) scale(1 1.02)" font-size="27.3" fill="#0000ff" text-anchor="start" stroke="#0000ff" stroke-width="0.4">0.6</text>
<line x1="618.9" y1="1021.84" x2="622.4" y2="1021.84" stroke="#0000ff" stroke-width="2"/>
<line x1="618.9" y1="986.56" x2="625.4" y2="986.56" stroke="#0000ff" stroke-width="2"/>
<text transform="translate(629.2 995.06) scale(1 1.02)" font-size="27.3" fill="#0000ff" text-anchor="start" stroke="#0000ff" stroke-width="0.4">0.8</text>
<line x1="618.9" y1="951.28" x2="622.4" y2="951.28" stroke="#0000ff" stroke-width="2"/>
<line x1="618.9" y1="916" x2="625.4" y2="916" stroke="#0000ff" stroke-width="2"/>
<text transform="translate(629.2 924.5) scale(1 1.02)" font-size="27.3" fill="#0000ff" text-anchor="start" stroke="#0000ff" stroke-width="0.4">1.0</text>
<text transform="translate(22.9 1085.2) rotate(-90) scale(1 1.02)" font-size="31.5" fill="#000000" text-anchor="middle" stroke="#000000" stroke-width="0.4">Drought variable</text>
<text transform="translate(610.5 1095.4) rotate(-90) scale(1 1.02)" font-size="31.8" fill="#000000" text-anchor="middle" stroke="#000000" stroke-width="0.4">Return period</text>
<text transform="translate(694.2 1092) rotate(-90) scale(1 1.02)" font-size="31.8" fill="#000000" text-anchor="middle" stroke="#000000" stroke-width="0.4">Probability</text>
<text transform="translate(274.5 962.8) scale(1 1.02)" font-size="39" fill="#000000" text-anchor="start" font-weight="bold" stroke="#000000" stroke-width="0.3">CS</text>
<rect x="88.2" y="1649" width="15.1" height="35" fill="#000000"/>
<rect x="101.3" y="1655.9" width="15.1" height="28.1" fill="#ff0000"/>
<rect x="114.4" y="1677.4" width="15.1" height="6.6" fill="#00ff00"/>
<rect x="127.5" y="1614.6" width="15.1" height="69.4" fill="#0000ff"/>
<rect x="164.3" y="1623.2" width="15.1" height="60.8" fill="#000000"/>
<rect x="177.4" y="1636.6" width="15.1" height="47.4" fill="#ff0000"/>
<rect x="190.5" y="1673.1" width="15.1" height="10.9" fill="#00ff00"/>
<rect x="203.6" y="1560.9" width="15.1" height="123.1" fill="#0000ff"/>
<rect x="239.6" y="1599.1" width="15.1" height="84.9" fill="#000000"/>
<rect x="252.7" y="1603.9" width="15.1" height="80.1" fill="#ff0000"/>
<rect x="265.8" y="1669.5" width="15.1" height="14.5" fill="#00ff00"/>
<rect x="278.9" y="1531.2" width="15.1" height="152.8" fill="#0000ff"/>
<rect x="315.8" y="1575.9" width="15.1" height="108.1" fill="#000000"/>
<rect x="328.9" y="1564.5" width="15.1" height="119.5" fill="#ff0000"/>
<rect x="342" y="1665.8" width="15.1" height="18.2" fill="#00ff00"/>
<rect x="355.1" y="1507.7" width="15.1" height="176.3" fill="#0000ff"/>
<rect x="391.1" y="1544.1" width="15.1" height="139.9" fill="#000000"/>
<rect x="404.2" y="1503.9" width="15.1" height="180.1" fill="#ff0000"/>
<rect x="417.3" y="1661.5" width="15.1" height="22.5" fill="#00ff00"/>
<rect x="430.4" y="1484.9" width="15.1" height="199.1" fill="#0000ff"/>
<rect x="467.4" y="1520.6" width="15.1" height="163.4" fill="#000000"/>
<rect x="480.5" y="1450.5" width="15.1" height="233.5" fill="#ff0000"/>
<rect x="493.6" y="1658.1" width="15.1" height="25.9" fill="#00ff00"/>
<rect x="506.7" y="1472.3" width="15.1" height="211.7" fill="#0000ff"/>
<line x1="124.18" y1="1662.14" x2="182.72" y2="1649.06" stroke="#ff0000" stroke-width="4.2"/>
<line x1="200.2" y1="1644.79" x2="258.1" y2="1629.41" stroke="#ff0000" stroke-width="4.2"/>
<line x1="274.97" y1="1623.33" x2="334.83" y2="1595.77" stroke="#ff0000" stroke-width="4.2"/>
<line x1="348.65" y1="1585" x2="412.65" y2="1505.7" stroke="#ff0000" stroke-width="4.2"/>
<line x1="422.45" y1="1490.71" x2="490.45" y2="1359.79" stroke="#ff0000" stroke-width="4.2"/>
<rect x="109.4" y="1658.1" width="12" height="12" fill="#ff0000"/>
<rect x="185.5" y="1641.1" width="12" height="12" fill="#ff0000"/>
<rect x="260.8" y="1621.1" width="12" height="12" fill="#ff0000"/>
<rect x="337" y="1586" width="12" height="12" fill="#ff0000"/>
<rect x="412.3" y="1492.7" width="12" height="12" fill="#ff0000"/>
<rect x="488.6" y="1345.8" width="12" height="12" fill="#ff0000"/>
<line x1="121.84" y1="1525.18" x2="185.06" y2="1586.82" stroke="#0000ff" stroke-width="4.4"/>
<line x1="199.64" y1="1596.94" x2="258.66" y2="1624.76" stroke="#0000ff" stroke-width="4.4"/>
<line x1="275.25" y1="1631.7" x2="334.55" y2="1653.5" stroke="#0000ff" stroke-width="4.4"/>
<line x1="351.89" y1="1658.01" x2="409.41" y2="1667.12" stroke="#0000ff" stroke-width="4.4"/>
<line x1="427.23" y1="1669.65" x2="485.67" y2="1676.98" stroke="#0000ff" stroke-width="4.4"/>
<polygon points="115.4,1509.99 107.25,1524.11 123.55,1524.11" fill="#0000ff"/>
<polygon points="191.5,1584.19 183.35,1598.31 199.65,1598.31" fill="#0000ff"/>
<polygon points="266.8,1619.69 258.65,1633.81 274.95,1633.81" fill="#0000ff"/>
<polygon points="343,1647.69 334.85,1661.81 351.15,1661.81" fill="#0000ff"/>
<polygon points="418.3,1659.62 410.15,1673.74 426.45,1673.74" fill="#0000ff"/>
<polygon points="494.6,1669.19 486.45,1683.31 502.75,1683.31" fill="#0000ff"/>
<line x1="77.7" y1="1335" x2="77.7" y2="1687.5" stroke="#000000" stroke-width="2"/>
<line x1="71.2" y1="1684" x2="77.7" y2="1684" stroke="#000000" stroke-width="2"/>
<text transform="translate(66.7 1692.4) scale(1 1.02)" font-size="27.3" fill="#000000" text-anchor="end" stroke="#000000" stroke-width="0.4">0</text>
<line x1="74.2" y1="1649.2" x2="77.7" y2="1649.2" stroke="#000000" stroke-width="2"/>
<line x1="71.2" y1="1614.4" x2="77.7" y2="1614.4" stroke="#000000" stroke-width="2"/>
<text transform="translate(66.7 1622.8) scale(1 1.02)" font-size="27.3" fill="#000000" text-anchor="end" stroke="#000000" stroke-width="0.4">10</text>
<line x1="74.2" y1="1579.6" x2="77.7" y2="1579.6" stroke="#000000" stroke-width="2"/>
<line x1="71.2" y1="1544.8" x2="77.7" y2="1544.8" stroke="#000000" stroke-width="2"/>
<text transform="translate(66.7 1553.2) scale(1 1.02)" font-size="27.3" fill="#000000" text-anchor="end" stroke="#000000" stroke-width="0.4">20</text>
<line x1="74.2" y1="1510" x2="77.7" y2="1510" stroke="#000000" stroke-width="2"/>
<line x1="71.2" y1="1475.2" x2="77.7" y2="1475.2" stroke="#000000" stroke-width="2"/>
<text transform="translate(66.7 1483.6) scale(1 1.02)" font-size="27.3" fill="#000000" text-anchor="end" stroke="#000000" stroke-width="0.4">30</text>
<line x1="74.2" y1="1440.4" x2="77.7" y2="1440.4" stroke="#000000" stroke-width="2"/>
<line x1="71.2" y1="1405.6" x2="77.7" y2="1405.6" stroke="#000000" stroke-width="2"/>
<text transform="translate(66.7 1414) scale(1 1.02)" font-size="27.3" fill="#000000" text-anchor="end" stroke="#000000" stroke-width="0.4">40</text>
<line x1="74.2" y1="1370.8" x2="77.7" y2="1370.8" stroke="#000000" stroke-width="2"/>
<line x1="71.2" y1="1336" x2="77.7" y2="1336" stroke="#000000" stroke-width="2"/>
<text transform="translate(66.7 1344.4) scale(1 1.02)" font-size="27.3" fill="#000000" text-anchor="end" stroke="#000000" stroke-width="0.4">50</text>
<line x1="71.2" y1="1684" x2="532.4" y2="1684" stroke="#000000" stroke-width="2"/>
<line x1="77.7" y1="1684" x2="77.7" y2="1687.5" stroke="#000000" stroke-width="2"/>
<line x1="153.48" y1="1684" x2="153.48" y2="1687.5" stroke="#000000" stroke-width="2"/>
<line x1="229.27" y1="1684" x2="229.27" y2="1687.5" stroke="#000000" stroke-width="2"/>
<line x1="305.05" y1="1684" x2="305.05" y2="1687.5" stroke="#000000" stroke-width="2"/>
<line x1="380.83" y1="1684" x2="380.83" y2="1687.5" stroke="#000000" stroke-width="2"/>
<line x1="456.62" y1="1684" x2="456.62" y2="1687.5" stroke="#000000" stroke-width="2"/>
<line x1="532.4" y1="1684" x2="532.4" y2="1687.5" stroke="#000000" stroke-width="2"/>
<line x1="115.4" y1="1684" x2="115.4" y2="1690.5" stroke="#000000" stroke-width="2"/>
<text transform="translate(115.43 1716.2) scale(1 1.02)" font-size="27.3" fill="#000000" text-anchor="middle" stroke="#000000" stroke-width="0.4" letter-spacing="0.05">Historic</text>
<line x1="191.5" y1="1684" x2="191.5" y2="1690.5" stroke="#000000" stroke-width="2"/>
<text transform="translate(191.5 1716.2) scale(1 1.02)" font-size="27.3" fill="#000000" text-anchor="middle" stroke="#000000" stroke-width="0.4">5</text>
<line x1="266.8" y1="1684" x2="266.8" y2="1690.5" stroke="#000000" stroke-width="2"/>
<text transform="translate(266.8 1716.2) scale(1 1.02)" font-size="27.3" fill="#000000" text-anchor="middle" stroke="#000000" stroke-width="0.4">10</text>
<line x1="343" y1="1684" x2="343" y2="1690.5" stroke="#000000" stroke-width="2"/>
<text transform="translate(343 1716.2) scale(1 1.02)" font-size="27.3" fill="#000000" text-anchor="middle" stroke="#000000" stroke-width="0.4">20</text>
<line x1="418.3" y1="1684" x2="418.3" y2="1690.5" stroke="#000000" stroke-width="2"/>
<text transform="translate(418.3 1716.2) scale(1 1.02)" font-size="27.3" fill="#000000" text-anchor="middle" stroke="#000000" stroke-width="0.4">50</text>
<line x1="494.6" y1="1684" x2="494.6" y2="1690.5" stroke="#000000" stroke-width="2"/>
<text transform="translate(494.6 1716.2) scale(1 1.02)" font-size="27.3" fill="#000000" text-anchor="middle" stroke="#000000" stroke-width="0.4">100</text>
<line x1="532.4" y1="1335" x2="532.4" y2="1684.8" stroke="#ff0000" stroke-width="2"/>
<line x1="532.4" y1="1683.8" x2="538.9" y2="1683.8" stroke="#ff0000" stroke-width="2"/>
<text transform="translate(542.7 1692.9) scale(1 1.02)" font-size="27.3" fill="#ff0000" text-anchor="start" stroke="#ff0000" stroke-width="0.4">0</text>
<line x1="532.4" y1="1654.82" x2="535.9" y2="1654.82" stroke="#ff0000" stroke-width="2"/>
<line x1="532.4" y1="1625.83" x2="538.9" y2="1625.83" stroke="#ff0000" stroke-width="2"/>
<text transform="translate(542.7 1634.93) scale(1 1.02)" font-size="27.3" fill="#ff0000" text-anchor="start" stroke="#ff0000" stroke-width="0.4">5</text>
<line x1="532.4" y1="1596.85" x2="535.9" y2="1596.85" stroke="#ff0000" stroke-width="2"/>
<line x1="532.4" y1="1567.87" x2="538.9" y2="1567.87" stroke="#ff0000" stroke-width="2"/>
<text transform="translate(542.7 1576.97) scale(1 1.02)" font-size="27.3" fill="#ff0000" text-anchor="start" stroke="#ff0000" stroke-width="0.4">10</text>
<line x1="532.4" y1="1538.88" x2="535.9" y2="1538.88" stroke="#ff0000" stroke-width="2"/>
<line x1="532.4" y1="1509.9" x2="538.9" y2="1509.9" stroke="#ff0000" stroke-width="2"/>
<text transform="translate(542.7 1519) scale(1 1.02)" font-size="27.3" fill="#ff0000" text-anchor="start" stroke="#ff0000" stroke-width="0.4">15</text>
<line x1="532.4" y1="1480.92" x2="535.9" y2="1480.92" stroke="#ff0000" stroke-width="2"/>
<line x1="532.4" y1="1451.93" x2="538.9" y2="1451.93" stroke="#ff0000" stroke-width="2"/>
<text transform="translate(542.7 1461.03) scale(1 1.02)" font-size="27.3" fill="#ff0000" text-anchor="start" stroke="#ff0000" stroke-width="0.4">20</text>
<line x1="532.4" y1="1422.95" x2="535.9" y2="1422.95" stroke="#ff0000" stroke-width="2"/>
<line x1="532.4" y1="1393.97" x2="538.9" y2="1393.97" stroke="#ff0000" stroke-width="2"/>
<text transform="translate(542.7 1403.07) scale(1 1.02)" font-size="27.3" fill="#ff0000" text-anchor="start" stroke="#ff0000" stroke-width="0.4">25</text>
<line x1="532.4" y1="1364.98" x2="535.9" y2="1364.98" stroke="#ff0000" stroke-width="2"/>
<line x1="532.4" y1="1336" x2="538.9" y2="1336" stroke="#ff0000" stroke-width="2"/>
<text transform="translate(542.7 1345.1) scale(1 1.02)" font-size="27.3" fill="#ff0000" text-anchor="start" stroke="#ff0000" stroke-width="0.4">30</text>
<line x1="613.9" y1="1338" x2="613.9" y2="1687.7" stroke="#0000ff" stroke-width="2"/>
<line x1="613.9" y1="1686.7" x2="620.4" y2="1686.7" stroke="#0000ff" stroke-width="2"/>
<text transform="translate(624.2 1695.6) scale(1 1.02)" font-size="27.3" fill="#0000ff" text-anchor="start" stroke="#0000ff" stroke-width="0.4">0.0</text>
<line x1="613.9" y1="1651.93" x2="617.4" y2="1651.93" stroke="#0000ff" stroke-width="2"/>
<line x1="613.9" y1="1617.16" x2="620.4" y2="1617.16" stroke="#0000ff" stroke-width="2"/>
<text transform="translate(624.2 1626.06) scale(1 1.02)" font-size="27.3" fill="#0000ff" text-anchor="start" stroke="#0000ff" stroke-width="0.4">0.2</text>
<line x1="613.9" y1="1582.39" x2="617.4" y2="1582.39" stroke="#0000ff" stroke-width="2"/>
<line x1="613.9" y1="1547.62" x2="620.4" y2="1547.62" stroke="#0000ff" stroke-width="2"/>
<text transform="translate(624.2 1556.52) scale(1 1.02)" font-size="27.3" fill="#0000ff" text-anchor="start" stroke="#0000ff" stroke-width="0.4">0.4</text>
<line x1="613.9" y1="1512.85" x2="617.4" y2="1512.85" stroke="#0000ff" stroke-width="2"/>
<line x1="613.9" y1="1478.08" x2="620.4" y2="1478.08" stroke="#0000ff" stroke-width="2"/>
<text transform="translate(624.2 1486.98) scale(1 1.02)" font-size="27.3" fill="#0000ff" text-anchor="start" stroke="#0000ff" stroke-width="0.4">0.6</text>
<line x1="613.9" y1="1443.31" x2="617.4" y2="1443.31" stroke="#0000ff" stroke-width="2"/>
<line x1="613.9" y1="1408.54" x2="620.4" y2="1408.54" stroke="#0000ff" stroke-width="2"/>
<text transform="translate(624.2 1417.44) scale(1 1.02)" font-size="27.3" fill="#0000ff" text-anchor="start" stroke="#0000ff" stroke-width="0.4">0.8</text>
<line x1="613.9" y1="1373.77" x2="617.4" y2="1373.77" stroke="#0000ff" stroke-width="2"/>
<line x1="613.9" y1="1339" x2="620.4" y2="1339" stroke="#0000ff" stroke-width="2"/>
<text transform="translate(624.2 1347.9) scale(1 1.02)" font-size="27.3" fill="#0000ff" text-anchor="start" stroke="#0000ff" stroke-width="0.4">1.0</text>
<text transform="translate(26 1506.3) rotate(-90) scale(1 1.02)" font-size="31.5" fill="#000000" text-anchor="middle" stroke="#000000" stroke-width="0.4">Drought variable</text>
<text transform="translate(606 1510.8) rotate(-90) scale(1 1.02)" font-size="31.5" fill="#000000" text-anchor="middle" stroke="#000000" stroke-width="0.4">Return period</text>
<text transform="translate(694.2 1512.5) rotate(-90) scale(1 1.02)" font-size="31.5" fill="#000000" text-anchor="middle" stroke="#000000" stroke-width="0.4">Probability</text>
<text transform="translate(266.4 1377) scale(1 1.02)" font-size="39" fill="#000000" text-anchor="start" font-weight="bold" stroke="#000000" stroke-width="0.3">SC</text>
<rect x="814.2" y="389" width="15.4" height="36.2" fill="#000000"/>
<rect x="827.6" y="392.9" width="15.4" height="32.3" fill="#ff0000"/>
<rect x="841" y="417.6" width="15.4" height="7.6" fill="#00ff00"/>
<rect x="854.4" y="355.1" width="15.4" height="70.1" fill="#0000ff"/>
<rect x="891.2" y="361.1" width="15.4" height="64.1" fill="#000000"/>
<rect x="904.6" y="368.6" width="15.4" height="56.6" fill="#ff0000"/>
<rect x="918" y="412" width="15.4" height="13.2" fill="#00ff00"/>
<rect x="931.4" y="312" width="15.4" height="113.2" fill="#0000ff"/>
<rect x="968" y="333.1" width="15.4" height="92.1" fill="#000000"/>
<rect x="981.4" y="331" width="15.4" height="94.2" fill="#ff0000"/>
<rect x="994.8" y="409.5" width="15.4" height="15.7" fill="#00ff00"/>
<rect x="1008.2" y="279.8" width="15.4" height="145.4" fill="#0000ff"/>
<rect x="1044.5" y="305.2" width="15.4" height="120" fill="#000000"/>
<rect x="1057.9" y="287.3" width="15.4" height="137.9" fill="#ff0000"/>
<rect x="1071.3" y="406.7" width="15.4" height="18.5" fill="#00ff00"/>
<rect x="1084.7" y="248.8" width="15.4" height="176.4" fill="#0000ff"/>
<rect x="1121.2" y="265" width="15.4" height="160.2" fill="#000000"/>
<rect x="1134.6" y="221.3" width="15.4" height="203.9" fill="#ff0000"/>
<rect x="1148" y="404.1" width="15.4" height="21.1" fill="#00ff00"/>
<rect x="1161.4" y="209" width="15.4" height="216.2" fill="#0000ff"/>
<rect x="1198" y="233.1" width="15.4" height="192.1" fill="#000000"/>
<rect x="1211.4" y="165.4" width="15.4" height="259.8" fill="#ff0000"/>
<rect x="1224.8" y="402.6" width="15.4" height="22.6" fill="#00ff00"/>
<rect x="1238.2" y="180.4" width="15.4" height="244.8" fill="#0000ff"/>
<line x1="850.8" y1="402.44" x2="910.2" y2="389.86" stroke="#ff0000" stroke-width="4.2"/>
<line x1="927.63" y1="385.46" x2="987.17" y2="367.94" stroke="#ff0000" stroke-width="4.2"/>
<line x1="1003.95" y1="361.58" x2="1064.15" y2="333.32" stroke="#ff0000" stroke-width="4.2"/>
<line x1="1077.94" y1="322.48" x2="1143.36" y2="241.02" stroke="#ff0000" stroke-width="4.2"/>
<line x1="1153.1" y1="225.99" x2="1221.7" y2="92.11" stroke="#ff0000" stroke-width="4.2"/>
<rect x="836" y="398.3" width="12" height="12" fill="#ff0000"/>
<rect x="913" y="382" width="12" height="12" fill="#ff0000"/>
<rect x="989.8" y="359.4" width="12" height="12" fill="#ff0000"/>
<rect x="1066.3" y="323.5" width="12" height="12" fill="#ff0000"/>
<rect x="1143" y="228" width="12" height="12" fill="#ff0000"/>
<rect x="1219.8" y="78.1" width="12" height="12" fill="#ff0000"/>
<line x1="848.31" y1="264.29" x2="912.69" y2="329.88" stroke="#0000ff" stroke-width="4.4"/>
<line x1="927.25" y1="339.89" x2="987.55" y2="366.11" stroke="#0000ff" stroke-width="4.4"/>
<line x1="1004.43" y1="372.25" x2="1063.67" y2="389.75" stroke="#0000ff" stroke-width="4.4"/>
<line x1="1081.08" y1="394.27" x2="1140.22" y2="407.53" stroke="#0000ff" stroke-width="4.4"/>
<line x1="1157.94" y1="410.5" x2="1216.86" y2="417.1" stroke="#0000ff" stroke-width="4.4"/>
<polygon points="842,248.96 833.85,263.07 850.15,263.07" fill="#0000ff"/>
<polygon points="919,327.39 910.85,341.51 927.15,341.51" fill="#0000ff"/>
<polygon points="995.8,360.79 987.65,374.91 1003.95,374.91" fill="#0000ff"/>
<polygon points="1072.3,383.39 1064.15,397.51 1080.45,397.51" fill="#0000ff"/>
<polygon points="1149,400.59 1140.85,414.71 1157.15,414.71" fill="#0000ff"/>
<polygon points="1225.8,409.19 1217.65,423.31 1233.95,423.31" fill="#0000ff"/>
<line x1="804" y1="71.7" x2="804" y2="428.7" stroke="#000000" stroke-width="2"/>
<line x1="797.5" y1="425.2" x2="804" y2="425.2" stroke="#000000" stroke-width="2"/>
<text transform="translate(793 433.6) scale(1 1.02)" font-size="27.3" fill="#000000" text-anchor="end" stroke="#000000" stroke-width="0.4">0</text>
<line x1="800.5" y1="389.95" x2="804" y2="389.95" stroke="#000000" stroke-width="2"/>
<line x1="797.5" y1="354.7" x2="804" y2="354.7" stroke="#000000" stroke-width="2"/>
<text transform="translate(793 363.1) scale(1 1.02)" font-size="27.3" fill="#000000" text-anchor="end" stroke="#000000" stroke-width="0.4">10</text>
<line x1="800.5" y1="319.45" x2="804" y2="319.45" stroke="#000000" stroke-width="2"/>
<line x1="797.5" y1="284.2" x2="804" y2="284.2" stroke="#000000" stroke-width="2"/>
<text transform="translate(793 292.6) scale(1 1.02)" font-size="27.3" fill="#000000" text-anchor="end" stroke="#000000" stroke-width="0.4">20</text>
<line x1="800.5" y1="248.95" x2="804" y2="248.95" stroke="#000000" stroke-width="2"/>
<line x1="797.5" y1="213.7" x2="804" y2="213.7" stroke="#000000" stroke-width="2"/>
<text transform="translate(793 222.1) scale(1 1.02)" font-size="27.3" fill="#000000" text-anchor="end" stroke="#000000" stroke-width="0.4">30</text>
<line x1="800.5" y1="178.45" x2="804" y2="178.45" stroke="#000000" stroke-width="2"/>
<line x1="797.5" y1="143.2" x2="804" y2="143.2" stroke="#000000" stroke-width="2"/>
<text transform="translate(793 151.6) scale(1 1.02)" font-size="27.3" fill="#000000" text-anchor="end" stroke="#000000" stroke-width="0.4">40</text>
<line x1="800.5" y1="107.95" x2="804" y2="107.95" stroke="#000000" stroke-width="2"/>
<line x1="797.5" y1="72.7" x2="804" y2="72.7" stroke="#000000" stroke-width="2"/>
<text transform="translate(793 81.1) scale(1 1.02)" font-size="27.3" fill="#000000" text-anchor="end" stroke="#000000" stroke-width="0.4">50</text>
<line x1="797.5" y1="425.2" x2="1264.7" y2="425.2" stroke="#000000" stroke-width="2"/>
<line x1="804" y1="425.2" x2="804" y2="428.7" stroke="#000000" stroke-width="2"/>
<line x1="880.78" y1="425.2" x2="880.78" y2="428.7" stroke="#000000" stroke-width="2"/>
<line x1="957.57" y1="425.2" x2="957.57" y2="428.7" stroke="#000000" stroke-width="2"/>
<line x1="1034.35" y1="425.2" x2="1034.35" y2="428.7" stroke="#000000" stroke-width="2"/>
<line x1="1111.13" y1="425.2" x2="1111.13" y2="428.7" stroke="#000000" stroke-width="2"/>
<line x1="1187.92" y1="425.2" x2="1187.92" y2="428.7" stroke="#000000" stroke-width="2"/>
<line x1="1264.7" y1="425.2" x2="1264.7" y2="428.7" stroke="#000000" stroke-width="2"/>
<line x1="842" y1="425.2" x2="842" y2="431.7" stroke="#000000" stroke-width="2"/>
<text transform="translate(842.2 457.4) scale(1 1.02)" font-size="27.3" fill="#000000" text-anchor="middle" stroke="#000000" stroke-width="0.4" letter-spacing="0.4">Historic</text>
<line x1="919" y1="425.2" x2="919" y2="431.7" stroke="#000000" stroke-width="2"/>
<text transform="translate(919 457.4) scale(1 1.02)" font-size="27.3" fill="#000000" text-anchor="middle" stroke="#000000" stroke-width="0.4">5</text>
<line x1="995.8" y1="425.2" x2="995.8" y2="431.7" stroke="#000000" stroke-width="2"/>
<text transform="translate(995.8 457.4) scale(1 1.02)" font-size="27.3" fill="#000000" text-anchor="middle" stroke="#000000" stroke-width="0.4">10</text>
<line x1="1072.3" y1="425.2" x2="1072.3" y2="431.7" stroke="#000000" stroke-width="2"/>
<text transform="translate(1072.3 457.4) scale(1 1.02)" font-size="27.3" fill="#000000" text-anchor="middle" stroke="#000000" stroke-width="0.4">20</text>
<line x1="1149" y1="425.2" x2="1149" y2="431.7" stroke="#000000" stroke-width="2"/>
<text transform="translate(1149 457.4) scale(1 1.02)" font-size="27.3" fill="#000000" text-anchor="middle" stroke="#000000" stroke-width="0.4">50</text>
<line x1="1225.8" y1="425.2" x2="1225.8" y2="431.7" stroke="#000000" stroke-width="2"/>
<text transform="translate(1225.8 457.4) scale(1 1.02)" font-size="27.3" fill="#000000" text-anchor="middle" stroke="#000000" stroke-width="0.4">100</text>
<line x1="1264.7" y1="71.6" x2="1264.7" y2="426.4" stroke="#ff0000" stroke-width="2"/>
<line x1="1264.7" y1="425.4" x2="1271.2" y2="425.4" stroke="#ff0000" stroke-width="2"/>
<text transform="translate(1275 433.65) scale(1 1.02)" font-size="27.3" fill="#ff0000" text-anchor="start" stroke="#ff0000" stroke-width="0.4">0</text>
<line x1="1264.7" y1="396" x2="1268.2" y2="396" stroke="#ff0000" stroke-width="2"/>
<line x1="1264.7" y1="366.6" x2="1271.2" y2="366.6" stroke="#ff0000" stroke-width="2"/>
<text transform="translate(1275 374.85) scale(1 1.02)" font-size="27.3" fill="#ff0000" text-anchor="start" stroke="#ff0000" stroke-width="0.4">5</text>
<line x1="1264.7" y1="337.2" x2="1268.2" y2="337.2" stroke="#ff0000" stroke-width="2"/>
<line x1="1264.7" y1="307.8" x2="1271.2" y2="307.8" stroke="#ff0000" stroke-width="2"/>
<text transform="translate(1275 316.05) scale(1 1.02)" font-size="27.3" fill="#ff0000" text-anchor="start" stroke="#ff0000" stroke-width="0.4">10</text>
<line x1="1264.7" y1="278.4" x2="1268.2" y2="278.4" stroke="#ff0000" stroke-width="2"/>
<line x1="1264.7" y1="249" x2="1271.2" y2="249" stroke="#ff0000" stroke-width="2"/>
<text transform="translate(1275 257.25) scale(1 1.02)" font-size="27.3" fill="#ff0000" text-anchor="start" stroke="#ff0000" stroke-width="0.4">15</text>
<line x1="1264.7" y1="219.6" x2="1268.2" y2="219.6" stroke="#ff0000" stroke-width="2"/>
<line x1="1264.7" y1="190.2" x2="1271.2" y2="190.2" stroke="#ff0000" stroke-width="2"/>
<text transform="translate(1275 198.45) scale(1 1.02)" font-size="27.3" fill="#ff0000" text-anchor="start" stroke="#ff0000" stroke-width="0.4">20</text>
<line x1="1264.7" y1="160.8" x2="1268.2" y2="160.8" stroke="#ff0000" stroke-width="2"/>
<line x1="1264.7" y1="131.4" x2="1271.2" y2="131.4" stroke="#ff0000" stroke-width="2"/>
<text transform="translate(1275 139.65) scale(1 1.02)" font-size="27.3" fill="#ff0000" text-anchor="start" stroke="#ff0000" stroke-width="0.4">25</text>
<line x1="1264.7" y1="102" x2="1268.2" y2="102" stroke="#ff0000" stroke-width="2"/>
<line x1="1264.7" y1="72.6" x2="1271.2" y2="72.6" stroke="#ff0000" stroke-width="2"/>
<text transform="translate(1275 80.85) scale(1 1.02)" font-size="27.3" fill="#ff0000" text-anchor="start" stroke="#ff0000" stroke-width="0.4">30</text>
<line x1="1347.7" y1="74.4" x2="1347.7" y2="428.8" stroke="#0000ff" stroke-width="2"/>
<line x1="1347.7" y1="427.8" x2="1354.2" y2="427.8" stroke="#0000ff" stroke-width="2"/>
<text transform="translate(1358 436.4) scale(1 1.02)" font-size="27.3" fill="#0000ff" text-anchor="start" stroke="#0000ff" stroke-width="0.4">0.0</text>
<line x1="1347.7" y1="392.56" x2="1351.2" y2="392.56" stroke="#0000ff" stroke-width="2"/>
<line x1="1347.7" y1="357.32" x2="1354.2" y2="357.32" stroke="#0000ff" stroke-width="2"/>
<text transform="translate(1358 365.92) scale(1 1.02)" font-size="27.3" fill="#0000ff" text-anchor="start" stroke="#0000ff" stroke-width="0.4">0.2</text>
<line x1="1347.7" y1="322.08" x2="1351.2" y2="322.08" stroke="#0000ff" stroke-width="2"/>
<line x1="1347.7" y1="286.84" x2="1354.2" y2="286.84" stroke="#0000ff" stroke-width="2"/>
<text transform="translate(1358 295.44) scale(1 1.02)" font-size="27.3" fill="#0000ff" text-anchor="start" stroke="#0000ff" stroke-width="0.4">0.4</text>
<line x1="1347.7" y1="251.6" x2="1351.2" y2="251.6" stroke="#0000ff" stroke-width="2"/>
<line x1="1347.7" y1="216.36" x2="1354.2" y2="216.36" stroke="#0000ff" stroke-width="2"/>
<text transform="translate(1358 224.96) scale(1 1.02)" font-size="27.3" fill="#0000ff" text-anchor="start" stroke="#0000ff" stroke-width="0.4">0.6</text>
<line x1="1347.7" y1="181.12" x2="1351.2" y2="181.12" stroke="#0000ff" stroke-width="2"/>
<line x1="1347.7" y1="145.88" x2="1354.2" y2="145.88" stroke="#0000ff" stroke-width="2"/>
<text transform="translate(1358 154.48) scale(1 1.02)" font-size="27.3" fill="#0000ff" text-anchor="start" stroke="#0000ff" stroke-width="0.4">0.8</text>
<line x1="1347.7" y1="110.64" x2="1351.2" y2="110.64" stroke="#0000ff" stroke-width="2"/>
<line x1="1347.7" y1="75.4" x2="1354.2" y2="75.4" stroke="#0000ff" stroke-width="2"/>
<text transform="translate(1358 84) scale(1 1.02)" font-size="27.3" fill="#0000ff" text-anchor="start" stroke="#0000ff" stroke-width="0.4">1.0</text>
<text transform="translate(750.1 244) rotate(-90) scale(1 1.02)" font-size="34.3" fill="#000000" text-anchor="middle" stroke="#000000" stroke-width="0.4">Drought variable</text>
<text transform="translate(1338.6 253.3) rotate(-90) scale(1 1.02)" font-size="32.2" fill="#000000" text-anchor="middle" stroke="#000000" stroke-width="0.4">Rreturn period</text>
<text transform="translate(1425.4 251.9) rotate(-90) scale(1 1.02)" font-size="32.2" fill="#000000" text-anchor="middle" stroke="#000000" stroke-width="0.4">Probability</text>
<text transform="translate(997.2 123.4) scale(1 1.02)" font-size="39" fill="#000000" text-anchor="start" font-weight="bold" stroke="#000000" stroke-width="0.3">IM</text>
<clipPath id="c5"><rect x="808.3" y="495.5" width="453.7" height="349.5"/></clipPath>
<g clip-path="url(#c5)">
<rect x="819.1" y="792.9" width="15.1" height="50.1" fill="#000000"/>
<rect x="832.2" y="791.8" width="15.1" height="51.2" fill="#ff0000"/>
<rect x="845.3" y="834.8" width="15.1" height="8.2" fill="#00ff00"/>
<rect x="858.4" y="742.4" width="15.1" height="100.6" fill="#0000ff"/>
<rect x="894.6" y="773.5" width="15.1" height="69.5" fill="#000000"/>
<rect x="907.7" y="782.2" width="15.1" height="60.8" fill="#ff0000"/>
<rect x="920.8" y="831" width="15.1" height="12" fill="#00ff00"/>
<rect x="933.9" y="697.6" width="15.1" height="145.4" fill="#0000ff"/>
<rect x="970.2" y="737.6" width="15.1" height="105.4" fill="#000000"/>
<rect x="983.3" y="727.3" width="15.1" height="115.7" fill="#ff0000"/>
<rect x="996.4" y="827.3" width="15.1" height="15.7" fill="#00ff00"/>
<rect x="1009.5" y="634.8" width="15.1" height="208.2" fill="#0000ff"/>
<rect x="1045.7" y="700.4" width="15.1" height="142.6" fill="#000000"/>
<rect x="1058.8" y="661.3" width="15.1" height="181.7" fill="#ff0000"/>
<rect x="1071.9" y="826.2" width="15.1" height="16.8" fill="#00ff00"/>
<rect x="1085" y="578.5" width="15.1" height="264.5" fill="#0000ff"/>
<rect x="1121.3" y="647.1" width="15.1" height="195.9" fill="#000000"/>
<rect x="1134.4" y="556.3" width="15.1" height="286.7" fill="#ff0000"/>
<rect x="1147.5" y="825.2" width="15.1" height="17.8" fill="#00ff00"/>
<rect x="1160.6" y="510.5" width="15.1" height="332.5" fill="#0000ff"/>
<rect x="1196.8" y="605.4" width="15.1" height="237.6" fill="#000000"/>
<rect x="1209.9" y="495.5" width="15.1" height="347.5" fill="#ff0000"/>
<rect x="1223" y="823.4" width="15.1" height="19.6" fill="#00ff00"/>
<rect x="1236.1" y="495.5" width="15.1" height="347.5" fill="#0000ff"/>
<line x1="855.19" y1="812.11" x2="912.91" y2="803.09" stroke="#ff0000" stroke-width="4.2"/>
<line x1="930.31" y1="798.77" x2="988.89" y2="778.63" stroke="#ff0000" stroke-width="4.2"/>
<line x1="1005.43" y1="771.65" x2="1064.87" y2="741.65" stroke="#ff0000" stroke-width="4.2"/>
<line x1="1078.4" y1="730.48" x2="1143" y2="646.92" stroke="#ff0000" stroke-width="4.2"/>
<line x1="1152.64" y1="631.81" x2="1219.86" y2="501.99" stroke="#ff0000" stroke-width="4.2"/>
<rect x="840.3" y="807.5" width="12" height="12" fill="#ff0000"/>
<rect x="915.8" y="795.7" width="12" height="12" fill="#ff0000"/>
<rect x="991.4" y="769.7" width="12" height="12" fill="#ff0000"/>
<rect x="1066.9" y="731.6" width="12" height="12" fill="#ff0000"/>
<rect x="1142.5" y="633.8" width="12" height="12" fill="#ff0000"/>
<line x1="853.68" y1="677.85" x2="914.42" y2="720.25" stroke="#0000ff" stroke-width="4.4"/>
<line x1="929.48" y1="730.09" x2="989.72" y2="766.91" stroke="#0000ff" stroke-width="4.4"/>
<line x1="1005.86" y1="774.68" x2="1064.44" y2="795.99" stroke="#0000ff" stroke-width="4.4"/>
<line x1="1081.51" y1="801.69" x2="1139.89" y2="819.45" stroke="#0000ff" stroke-width="4.4"/>
<line x1="1157.42" y1="823.24" x2="1215.08" y2="830.8" stroke="#0000ff" stroke-width="4.4"/>
<polygon points="846.3,663.79 838.15,677.91 854.45,677.91" fill="#0000ff"/>
<polygon points="921.8,716.49 913.65,730.61 929.95,730.61" fill="#0000ff"/>
<polygon points="997.4,762.69 989.25,776.81 1005.55,776.81" fill="#0000ff"/>
<polygon points="1072.9,790.16 1064.75,804.27 1081.05,804.27" fill="#0000ff"/>
<polygon points="1148.5,813.16 1140.35,827.27 1156.65,827.27" fill="#0000ff"/>
<polygon points="1224,823.06 1215.85,837.17 1232.15,837.17" fill="#0000ff"/>
</g>
<line x1="808.3" y1="494.5" x2="808.3" y2="846.5" stroke="#000000" stroke-width="2"/>
<line x1="801.8" y1="843" x2="808.3" y2="843" stroke="#000000" stroke-width="2"/>
<text transform="translate(797.3 851.4) scale(1 1.02)" font-size="27.3" fill="#000000" text-anchor="end" stroke="#000000" stroke-width="0.4">0</text>
<line x1="804.8" y1="808.25" x2="808.3" y2="808.25" stroke="#000000" stroke-width="2"/>
<line x1="801.8" y1="773.5" x2="808.3" y2="773.5" stroke="#000000" stroke-width="2"/>
<text transform="translate(797.3 781.9) scale(1 1.02)" font-size="27.3" fill="#000000" text-anchor="end" stroke="#000000" stroke-width="0.4">10</text>
<line x1="804.8" y1="738.75" x2="808.3" y2="738.75" stroke="#000000" stroke-width="2"/>
<line x1="801.8" y1="704" x2="808.3" y2="704" stroke="#000000" stroke-width="2"/>
<text transform="translate(797.3 712.4) scale(1 1.02)" font-size="27.3" fill="#000000" text-anchor="end" stroke="#000000" stroke-width="0.4">20</text>
<line x1="804.8" y1="669.25" x2="808.3" y2="669.25" stroke="#000000" stroke-width="2"/>
<line x1="801.8" y1="634.5" x2="808.3" y2="634.5" stroke="#000000" stroke-width="2"/>
<text transform="translate(797.3 642.9) scale(1 1.02)" font-size="27.3" fill="#000000" text-anchor="end" stroke="#000000" stroke-width="0.4">30</text>
<line x1="804.8" y1="599.75" x2="808.3" y2="599.75" stroke="#000000" stroke-width="2"/>
<line x1="801.8" y1="565" x2="808.3" y2="565" stroke="#000000" stroke-width="2"/>
<text transform="translate(797.3 573.4) scale(1 1.02)" font-size="27.3" fill="#000000" text-anchor="end" stroke="#000000" stroke-width="0.4">40</text>
<line x1="804.8" y1="530.25" x2="808.3" y2="530.25" stroke="#000000" stroke-width="2"/>
<line x1="801.8" y1="495.5" x2="808.3" y2="495.5" stroke="#000000" stroke-width="2"/>
<text transform="translate(797.3 503.9) scale(1 1.02)" font-size="27.3" fill="#000000" text-anchor="end" stroke="#000000" stroke-width="0.4">50</text>
<line x1="801.8" y1="843" x2="1262" y2="843" stroke="#000000" stroke-width="2"/>
<line x1="808.3" y1="843" x2="808.3" y2="846.5" stroke="#000000" stroke-width="2"/>
<line x1="883.92" y1="843" x2="883.92" y2="846.5" stroke="#000000" stroke-width="2"/>
<line x1="959.53" y1="843" x2="959.53" y2="846.5" stroke="#000000" stroke-width="2"/>
<line x1="1035.15" y1="843" x2="1035.15" y2="846.5" stroke="#000000" stroke-width="2"/>
<line x1="1110.77" y1="843" x2="1110.77" y2="846.5" stroke="#000000" stroke-width="2"/>
<line x1="1186.38" y1="843" x2="1186.38" y2="846.5" stroke="#000000" stroke-width="2"/>
<line x1="1262" y1="843" x2="1262" y2="846.5" stroke="#000000" stroke-width="2"/>
<line x1="846.3" y1="843" x2="846.3" y2="849.5" stroke="#000000" stroke-width="2"/>
<text transform="translate(846.4 875.2) scale(1 1.02)" font-size="27.3" fill="#000000" text-anchor="middle" stroke="#000000" stroke-width="0.4" letter-spacing="0.2">Historic</text>
<line x1="921.8" y1="843" x2="921.8" y2="849.5" stroke="#000000" stroke-width="2"/>
<text transform="translate(921.8 875.2) scale(1 1.02)" font-size="27.3" fill="#000000" text-anchor="middle" stroke="#000000" stroke-width="0.4">5</text>
<line x1="997.4" y1="843" x2="997.4" y2="849.5" stroke="#000000" stroke-width="2"/>
<text transform="translate(997.4 875.2) scale(1 1.02)" font-size="27.3" fill="#000000" text-anchor="middle" stroke="#000000" stroke-width="0.4">10</text>
<line x1="1072.9" y1="843" x2="1072.9" y2="849.5" stroke="#000000" stroke-width="2"/>
<text transform="translate(1072.9 875.2) scale(1 1.02)" font-size="27.3" fill="#000000" text-anchor="middle" stroke="#000000" stroke-width="0.4">20</text>
<line x1="1148.5" y1="843" x2="1148.5" y2="849.5" stroke="#000000" stroke-width="2"/>
<text transform="translate(1148.5 875.2) scale(1 1.02)" font-size="27.3" fill="#000000" text-anchor="middle" stroke="#000000" stroke-width="0.4">50</text>
<line x1="1224" y1="843" x2="1224" y2="849.5" stroke="#000000" stroke-width="2"/>
<text transform="translate(1224 875.2) scale(1 1.02)" font-size="27.3" fill="#000000" text-anchor="middle" stroke="#000000" stroke-width="0.4">100</text>
<line x1="1262" y1="494.5" x2="1262" y2="844.2" stroke="#ff0000" stroke-width="2"/>
<line x1="1262" y1="843.2" x2="1268.5" y2="843.2" stroke="#ff0000" stroke-width="2"/>
<text transform="translate(1272.3 851.3) scale(1 1.02)" font-size="27.3" fill="#ff0000" text-anchor="start" stroke="#ff0000" stroke-width="0.4">0</text>
<line x1="1262" y1="814.23" x2="1265.5" y2="814.23" stroke="#ff0000" stroke-width="2"/>
<line x1="1262" y1="785.25" x2="1268.5" y2="785.25" stroke="#ff0000" stroke-width="2"/>
<text transform="translate(1272.3 793.35) scale(1 1.02)" font-size="27.3" fill="#ff0000" text-anchor="start" stroke="#ff0000" stroke-width="0.4">5</text>
<line x1="1262" y1="756.28" x2="1265.5" y2="756.28" stroke="#ff0000" stroke-width="2"/>
<line x1="1262" y1="727.3" x2="1268.5" y2="727.3" stroke="#ff0000" stroke-width="2"/>
<text transform="translate(1272.3 735.4) scale(1 1.02)" font-size="27.3" fill="#ff0000" text-anchor="start" stroke="#ff0000" stroke-width="0.4">10</text>
<line x1="1262" y1="698.33" x2="1265.5" y2="698.33" stroke="#ff0000" stroke-width="2"/>
<line x1="1262" y1="669.35" x2="1268.5" y2="669.35" stroke="#ff0000" stroke-width="2"/>
<text transform="translate(1272.3 677.45) scale(1 1.02)" font-size="27.3" fill="#ff0000" text-anchor="start" stroke="#ff0000" stroke-width="0.4">15</text>
<line x1="1262" y1="640.38" x2="1265.5" y2="640.38" stroke="#ff0000" stroke-width="2"/>
<line x1="1262" y1="611.4" x2="1268.5" y2="611.4" stroke="#ff0000" stroke-width="2"/>
<text transform="translate(1272.3 619.5) scale(1 1.02)" font-size="27.3" fill="#ff0000" text-anchor="start" stroke="#ff0000" stroke-width="0.4">20</text>
<line x1="1262" y1="582.42" x2="1265.5" y2="582.42" stroke="#ff0000" stroke-width="2"/>
<line x1="1262" y1="553.45" x2="1268.5" y2="553.45" stroke="#ff0000" stroke-width="2"/>
<text transform="translate(1272.3 561.55) scale(1 1.02)" font-size="27.3" fill="#ff0000" text-anchor="start" stroke="#ff0000" stroke-width="0.4">25</text>
<line x1="1262" y1="524.47" x2="1265.5" y2="524.47" stroke="#ff0000" stroke-width="2"/>
<line x1="1262" y1="495.5" x2="1268.5" y2="495.5" stroke="#ff0000" stroke-width="2"/>
<text transform="translate(1272.3 503.6) scale(1 1.02)" font-size="27.3" fill="#ff0000" text-anchor="start" stroke="#ff0000" stroke-width="0.4">30</text>
<line x1="1343.3" y1="498" x2="1343.3" y2="846.5" stroke="#0000ff" stroke-width="2"/>
<line x1="1343.3" y1="845.5" x2="1349.8" y2="845.5" stroke="#0000ff" stroke-width="2"/>
<text transform="translate(1353.6 854.5) scale(1 1.02)" font-size="27.3" fill="#0000ff" text-anchor="start" stroke="#0000ff" stroke-width="0.4">0.0</text>
<line x1="1343.3" y1="810.85" x2="1346.8" y2="810.85" stroke="#0000ff" stroke-width="2"/>
<line x1="1343.3" y1="776.2" x2="1349.8" y2="776.2" stroke="#0000ff" stroke-width="2"/>
<text transform="translate(1353.6 785.2) scale(1 1.02)" font-size="27.3" fill="#0000ff" text-anchor="start" stroke="#0000ff" stroke-width="0.4">0.2</text>
<line x1="1343.3" y1="741.55" x2="1346.8" y2="741.55" stroke="#0000ff" stroke-width="2"/>
<line x1="1343.3" y1="706.9" x2="1349.8" y2="706.9" stroke="#0000ff" stroke-width="2"/>
<text transform="translate(1353.6 715.9) scale(1 1.02)" font-size="27.3" fill="#0000ff" text-anchor="start" stroke="#0000ff" stroke-width="0.4">0.4</text>
<line x1="1343.3" y1="672.25" x2="1346.8" y2="672.25" stroke="#0000ff" stroke-width="2"/>
<line x1="1343.3" y1="637.6" x2="1349.8" y2="637.6" stroke="#0000ff" stroke-width="2"/>
<text transform="translate(1353.6 646.6) scale(1 1.02)" font-size="27.3" fill="#0000ff" text-anchor="start" stroke="#0000ff" stroke-width="0.4">0.6</text>
<line x1="1343.3" y1="602.95" x2="1346.8" y2="602.95" stroke="#0000ff" stroke-width="2"/>
<line x1="1343.3" y1="568.3" x2="1349.8" y2="568.3" stroke="#0000ff" stroke-width="2"/>
<text transform="translate(1353.6 577.3) scale(1 1.02)" font-size="27.3" fill="#0000ff" text-anchor="start" stroke="#0000ff" stroke-width="0.4">0.8</text>
<line x1="1343.3" y1="533.65" x2="1346.8" y2="533.65" stroke="#0000ff" stroke-width="2"/>
<line x1="1343.3" y1="499" x2="1349.8" y2="499" stroke="#0000ff" stroke-width="2"/>
<text transform="translate(1353.6 508) scale(1 1.02)" font-size="27.3" fill="#0000ff" text-anchor="start" stroke="#0000ff" stroke-width="0.4">1.0</text>
<text transform="translate(757.2 665.6) rotate(-90) scale(1 1.02)" font-size="31.5" fill="#000000" text-anchor="middle" stroke="#000000" stroke-width="0.4">Drought variable</text>
<text transform="translate(1333.3 667.8) rotate(-90) scale(1 1.02)" font-size="31.5" fill="#000000" text-anchor="middle" stroke="#000000" stroke-width="0.4">Return period</text>
<text transform="translate(1422.6 671.9) rotate(-90) scale(1 1.02)" font-size="31.5" fill="#000000" text-anchor="middle" stroke="#000000" stroke-width="0.4">Probability</text>
<text transform="translate(1068.8 543.4) scale(1 1.02)" font-size="39" fill="#000000" text-anchor="end" font-weight="bold" stroke="#000000" stroke-width="0.3">NW</text>
<rect x="809.3" y="1234.4" width="17.35" height="34.4" fill="#000000"/>
<rect x="824.65" y="1238.7" width="17.35" height="30.1" fill="#ff0000"/>
<rect x="840" y="1261.3" width="17.35" height="7.5" fill="#00ff00"/>
<rect x="855.35" y="1199.6" width="17.35" height="69.2" fill="#0000ff"/>
<rect x="886.3" y="1206.5" width="17.35" height="62.3" fill="#000000"/>
<rect x="901.65" y="1212.3" width="17.35" height="56.5" fill="#ff0000"/>
<rect x="917" y="1255.9" width="17.35" height="12.9" fill="#00ff00"/>
<rect x="932.35" y="1144.1" width="17.35" height="124.7" fill="#0000ff"/>
<rect x="962.6" y="1182.8" width="17.35" height="86" fill="#000000"/>
<rect x="977.95" y="1177.8" width="17.35" height="91" fill="#ff0000"/>
<rect x="993.3" y="1253.8" width="17.35" height="15" fill="#00ff00"/>
<rect x="1008.65" y="1108.6" width="17.35" height="160.2" fill="#0000ff"/>
<rect x="1039.3" y="1159.1" width="17.35" height="109.7" fill="#000000"/>
<rect x="1054.65" y="1138.7" width="17.35" height="130.1" fill="#ff0000"/>
<rect x="1070" y="1252.3" width="17.35" height="16.5" fill="#00ff00"/>
<rect x="1085.35" y="1080.2" width="17.35" height="188.6" fill="#0000ff"/>
<rect x="1116.3" y="1127.3" width="17.35" height="141.5" fill="#000000"/>
<rect x="1131.65" y="1079.6" width="17.35" height="189.2" fill="#ff0000"/>
<rect x="1147" y="1251.6" width="17.35" height="17.2" fill="#00ff00"/>
<rect x="1162.35" y="1047.7" width="17.35" height="221.1" fill="#0000ff"/>
<rect x="1193" y="1103.2" width="17.35" height="165.6" fill="#000000"/>
<rect x="1208.35" y="1030.5" width="17.35" height="238.3" fill="#ff0000"/>
<rect x="1223.7" y="1251" width="17.35" height="17.8" fill="#00ff00"/>
<rect x="1239.05" y="1028.4" width="17.35" height="240.4" fill="#0000ff"/>
<line x1="849.76" y1="1248.45" x2="909.24" y2="1234.55" stroke="#ff0000" stroke-width="4.2"/>
<line x1="926.69" y1="1230.16" x2="985.61" y2="1214.34" stroke="#ff0000" stroke-width="4.2"/>
<line x1="1002.39" y1="1208.06" x2="1062.91" y2="1178.54" stroke="#ff0000" stroke-width="4.2"/>
<line x1="1076.73" y1="1167.66" x2="1142.27" y2="1088.24" stroke="#ff0000" stroke-width="4.2"/>
<line x1="1152.01" y1="1073.24" x2="1220.69" y2="935.16" stroke="#ff0000" stroke-width="4.2"/>
<rect x="835" y="1244.5" width="12" height="12" fill="#ff0000"/>
<rect x="912" y="1226.5" width="12" height="12" fill="#ff0000"/>
<rect x="988.3" y="1206" width="12" height="12" fill="#ff0000"/>
<rect x="1065" y="1168.6" width="12" height="12" fill="#ff0000"/>
<rect x="1142" y="1075.3" width="12" height="12" fill="#ff0000"/>
<rect x="1218.7" y="921.1" width="12" height="12" fill="#ff0000"/>
<line x1="846.89" y1="1097.34" x2="912.11" y2="1172.6" stroke="#0000ff" stroke-width="4.4"/>
<line x1="926.2" y1="1183.12" x2="986.1" y2="1210.28" stroke="#0000ff" stroke-width="4.4"/>
<line x1="1002.95" y1="1216.47" x2="1062.35" y2="1233.43" stroke="#0000ff" stroke-width="4.4"/>
<line x1="1079.76" y1="1237.95" x2="1139.24" y2="1251.88" stroke="#0000ff" stroke-width="4.4"/>
<line x1="1156.95" y1="1254.88" x2="1215.75" y2="1261.12" stroke="#0000ff" stroke-width="4.4"/>
<polygon points="841,1081.62 832.85,1095.74 849.15,1095.74" fill="#0000ff"/>
<polygon points="918,1170.49 909.85,1184.61 926.15,1184.61" fill="#0000ff"/>
<polygon points="994.3,1205.09 986.15,1219.21 1002.45,1219.21" fill="#0000ff"/>
<polygon points="1071,1226.99 1062.85,1241.11 1079.15,1241.11" fill="#0000ff"/>
<polygon points="1148,1245.02 1139.85,1259.14 1156.15,1259.14" fill="#0000ff"/>
<polygon points="1224.7,1253.16 1216.55,1267.27 1232.85,1267.27" fill="#0000ff"/>
<line x1="802.3" y1="915.8" x2="802.3" y2="1272.3" stroke="#000000" stroke-width="2"/>
<line x1="795.8" y1="1268.8" x2="802.3" y2="1268.8" stroke="#000000" stroke-width="2"/>
<text transform="translate(791.3 1277.2) scale(1 1.02)" font-size="27.3" fill="#000000" text-anchor="end" stroke="#000000" stroke-width="0.4">0</text>
<line x1="798.8" y1="1233.6" x2="802.3" y2="1233.6" stroke="#000000" stroke-width="2"/>
<line x1="795.8" y1="1198.4" x2="802.3" y2="1198.4" stroke="#000000" stroke-width="2"/>
<text transform="translate(791.3 1206.8) scale(1 1.02)" font-size="27.3" fill="#000000" text-anchor="end" stroke="#000000" stroke-width="0.4">10</text>
<line x1="798.8" y1="1163.2" x2="802.3" y2="1163.2" stroke="#000000" stroke-width="2"/>
<line x1="795.8" y1="1128" x2="802.3" y2="1128" stroke="#000000" stroke-width="2"/>
<text transform="translate(791.3 1136.4) scale(1 1.02)" font-size="27.3" fill="#000000" text-anchor="end" stroke="#000000" stroke-width="0.4">20</text>
<line x1="798.8" y1="1092.8" x2="802.3" y2="1092.8" stroke="#000000" stroke-width="2"/>
<line x1="795.8" y1="1057.6" x2="802.3" y2="1057.6" stroke="#000000" stroke-width="2"/>
<text transform="translate(791.3 1066) scale(1 1.02)" font-size="27.3" fill="#000000" text-anchor="end" stroke="#000000" stroke-width="0.4">30</text>
<line x1="798.8" y1="1022.4" x2="802.3" y2="1022.4" stroke="#000000" stroke-width="2"/>
<line x1="795.8" y1="987.2" x2="802.3" y2="987.2" stroke="#000000" stroke-width="2"/>
<text transform="translate(791.3 995.6) scale(1 1.02)" font-size="27.3" fill="#000000" text-anchor="end" stroke="#000000" stroke-width="0.4">40</text>
<line x1="798.8" y1="952" x2="802.3" y2="952" stroke="#000000" stroke-width="2"/>
<line x1="795.8" y1="916.8" x2="802.3" y2="916.8" stroke="#000000" stroke-width="2"/>
<text transform="translate(791.3 925.2) scale(1 1.02)" font-size="27.3" fill="#000000" text-anchor="end" stroke="#000000" stroke-width="0.4">50</text>
<line x1="795.8" y1="1268.8" x2="1263.6" y2="1268.8" stroke="#000000" stroke-width="2"/>
<line x1="802.3" y1="1268.8" x2="802.3" y2="1272.3" stroke="#000000" stroke-width="2"/>
<line x1="879.18" y1="1268.8" x2="879.18" y2="1272.3" stroke="#000000" stroke-width="2"/>
<line x1="956.07" y1="1268.8" x2="956.07" y2="1272.3" stroke="#000000" stroke-width="2"/>
<line x1="1032.95" y1="1268.8" x2="1032.95" y2="1272.3" stroke="#000000" stroke-width="2"/>
<line x1="1109.83" y1="1268.8" x2="1109.83" y2="1272.3" stroke="#000000" stroke-width="2"/>
<line x1="1186.72" y1="1268.8" x2="1186.72" y2="1272.3" stroke="#000000" stroke-width="2"/>
<line x1="1263.6" y1="1268.8" x2="1263.6" y2="1272.3" stroke="#000000" stroke-width="2"/>
<line x1="841" y1="1268.8" x2="841" y2="1275.3" stroke="#000000" stroke-width="2"/>
<text transform="translate(841.15 1301) scale(1 1.02)" font-size="27.3" fill="#000000" text-anchor="middle" stroke="#000000" stroke-width="0.4" letter-spacing="0.3">Historic</text>
<line x1="918" y1="1268.8" x2="918" y2="1275.3" stroke="#000000" stroke-width="2"/>
<text transform="translate(918 1301) scale(1 1.02)" font-size="27.3" fill="#000000" text-anchor="middle" stroke="#000000" stroke-width="0.4">5</text>
<line x1="994.3" y1="1268.8" x2="994.3" y2="1275.3" stroke="#000000" stroke-width="2"/>
<text transform="translate(994.3 1301) scale(1 1.02)" font-size="27.3" fill="#000000" text-anchor="middle" stroke="#000000" stroke-width="0.4">10</text>
<line x1="1071" y1="1268.8" x2="1071" y2="1275.3" stroke="#000000" stroke-width="2"/>
<text transform="translate(1071 1301) scale(1 1.02)" font-size="27.3" fill="#000000" text-anchor="middle" stroke="#000000" stroke-width="0.4">20</text>
<line x1="1148" y1="1268.8" x2="1148" y2="1275.3" stroke="#000000" stroke-width="2"/>
<text transform="translate(1148 1301) scale(1 1.02)" font-size="27.3" fill="#000000" text-anchor="middle" stroke="#000000" stroke-width="0.4">50</text>
<line x1="1224.7" y1="1268.8" x2="1224.7" y2="1275.3" stroke="#000000" stroke-width="2"/>
<text transform="translate(1224.7 1301) scale(1 1.02)" font-size="27.3" fill="#000000" text-anchor="middle" stroke="#000000" stroke-width="0.4">100</text>
<line x1="1263.6" y1="915.7" x2="1263.6" y2="1269.7" stroke="#ff0000" stroke-width="2"/>
<line x1="1263.6" y1="1268.7" x2="1270.1" y2="1268.7" stroke="#ff0000" stroke-width="2"/>
<text transform="translate(1273.9 1278.3) scale(1 1.02)" font-size="27.3" fill="#ff0000" text-anchor="start" stroke="#ff0000" stroke-width="0.4">0</text>
<line x1="1263.6" y1="1239.37" x2="1267.1" y2="1239.37" stroke="#ff0000" stroke-width="2"/>
<line x1="1263.6" y1="1210.03" x2="1270.1" y2="1210.03" stroke="#ff0000" stroke-width="2"/>
<text transform="translate(1273.9 1219.63) scale(1 1.02)" font-size="27.3" fill="#ff0000" text-anchor="start" stroke="#ff0000" stroke-width="0.4">5</text>
<line x1="1263.6" y1="1180.7" x2="1267.1" y2="1180.7" stroke="#ff0000" stroke-width="2"/>
<line x1="1263.6" y1="1151.37" x2="1270.1" y2="1151.37" stroke="#ff0000" stroke-width="2"/>
<text transform="translate(1273.9 1160.97) scale(1 1.02)" font-size="27.3" fill="#ff0000" text-anchor="start" stroke="#ff0000" stroke-width="0.4">10</text>
<line x1="1263.6" y1="1122.03" x2="1267.1" y2="1122.03" stroke="#ff0000" stroke-width="2"/>
<line x1="1263.6" y1="1092.7" x2="1270.1" y2="1092.7" stroke="#ff0000" stroke-width="2"/>
<text transform="translate(1273.9 1102.3) scale(1 1.02)" font-size="27.3" fill="#ff0000" text-anchor="start" stroke="#ff0000" stroke-width="0.4">15</text>
<line x1="1263.6" y1="1063.37" x2="1267.1" y2="1063.37" stroke="#ff0000" stroke-width="2"/>
<line x1="1263.6" y1="1034.03" x2="1270.1" y2="1034.03" stroke="#ff0000" stroke-width="2"/>
<text transform="translate(1273.9 1043.63) scale(1 1.02)" font-size="27.3" fill="#ff0000" text-anchor="start" stroke="#ff0000" stroke-width="0.4">20</text>
<line x1="1263.6" y1="1004.7" x2="1267.1" y2="1004.7" stroke="#ff0000" stroke-width="2"/>
<line x1="1263.6" y1="975.37" x2="1270.1" y2="975.37" stroke="#ff0000" stroke-width="2"/>
<text transform="translate(1273.9 984.97) scale(1 1.02)" font-size="27.3" fill="#ff0000" text-anchor="start" stroke="#ff0000" stroke-width="0.4">25</text>
<line x1="1263.6" y1="946.03" x2="1267.1" y2="946.03" stroke="#ff0000" stroke-width="2"/>
<line x1="1263.6" y1="916.7" x2="1270.1" y2="916.7" stroke="#ff0000" stroke-width="2"/>
<text transform="translate(1273.9 926.3) scale(1 1.02)" font-size="27.3" fill="#ff0000" text-anchor="start" stroke="#ff0000" stroke-width="0.4">30</text>
<line x1="1346" y1="918.7" x2="1346" y2="1272.8" stroke="#0000ff" stroke-width="2"/>
<line x1="1346" y1="1271.8" x2="1352.5" y2="1271.8" stroke="#0000ff" stroke-width="2"/>
<text transform="translate(1356.3 1287.7) scale(1 1.02)" font-size="27.3" fill="#0000ff" text-anchor="start" stroke="#0000ff" stroke-width="0.4">0.0</text>
<line x1="1346" y1="1236.59" x2="1349.5" y2="1236.59" stroke="#0000ff" stroke-width="2"/>
<line x1="1346" y1="1201.38" x2="1352.5" y2="1201.38" stroke="#0000ff" stroke-width="2"/>
<text transform="translate(1356.3 1217.28) scale(1 1.02)" font-size="27.3" fill="#0000ff" text-anchor="start" stroke="#0000ff" stroke-width="0.4">0.2</text>
<line x1="1346" y1="1166.17" x2="1349.5" y2="1166.17" stroke="#0000ff" stroke-width="2"/>
<line x1="1346" y1="1130.96" x2="1352.5" y2="1130.96" stroke="#0000ff" stroke-width="2"/>
<text transform="translate(1356.3 1146.86) scale(1 1.02)" font-size="27.3" fill="#0000ff" text-anchor="start" stroke="#0000ff" stroke-width="0.4">0.4</text>
<line x1="1346" y1="1095.75" x2="1349.5" y2="1095.75" stroke="#0000ff" stroke-width="2"/>
<line x1="1346" y1="1060.54" x2="1352.5" y2="1060.54" stroke="#0000ff" stroke-width="2"/>
<text transform="translate(1356.3 1076.44) scale(1 1.02)" font-size="27.3" fill="#0000ff" text-anchor="start" stroke="#0000ff" stroke-width="0.4">0.6</text>
<line x1="1346" y1="1025.33" x2="1349.5" y2="1025.33" stroke="#0000ff" stroke-width="2"/>
<line x1="1346" y1="990.12" x2="1352.5" y2="990.12" stroke="#0000ff" stroke-width="2"/>
<text transform="translate(1356.3 1006.02) scale(1 1.02)" font-size="27.3" fill="#0000ff" text-anchor="start" stroke="#0000ff" stroke-width="0.4">0.8</text>
<line x1="1346" y1="954.91" x2="1349.5" y2="954.91" stroke="#0000ff" stroke-width="2"/>
<line x1="1346" y1="919.7" x2="1352.5" y2="919.7" stroke="#0000ff" stroke-width="2"/>
<text transform="translate(1356.3 935.6) scale(1 1.02)" font-size="27.3" fill="#0000ff" text-anchor="start" stroke="#0000ff" stroke-width="0.4">1.0</text>
<text transform="translate(749.8 1089.7) rotate(-90) scale(1 1.02)" font-size="31.9" fill="#000000" text-anchor="middle" stroke="#000000" stroke-width="0.4">Drought variable</text>
<text transform="translate(1336.8 1093.7) rotate(-90) scale(1 1.02)" font-size="32" fill="#000000" text-anchor="middle" stroke="#000000" stroke-width="0.4">Return period</text>
<text transform="translate(1423.8 1096) rotate(-90) scale(1 1.02)" font-size="32" fill="#000000" text-anchor="middle" stroke="#000000" stroke-width="0.4">Probability</text>
<text transform="translate(987.1 972.7) scale(1 1.02)" font-size="39" fill="#000000" text-anchor="start" font-weight="bold" stroke="#000000" stroke-width="0.3">TP</text>
<rect x="819" y="1648.4" width="15.5" height="41.1" fill="#000000"/>
<rect x="832.5" y="1654.4" width="15.5" height="35.1" fill="#ff0000"/>
<rect x="846" y="1681.3" width="15.5" height="8.2" fill="#00ff00"/>
<rect x="859.5" y="1605" width="15.5" height="84.5" fill="#0000ff"/>
<rect x="896.8" y="1621.1" width="15.5" height="68.4" fill="#000000"/>
<rect x="910.3" y="1632.5" width="15.5" height="57" fill="#ff0000"/>
<rect x="923.8" y="1677" width="15.5" height="12.5" fill="#00ff00"/>
<rect x="937.3" y="1541.1" width="15.5" height="148.4" fill="#0000ff"/>
<rect x="974.3" y="1602.8" width="15.5" height="86.7" fill="#000000"/>
<rect x="987.8" y="1602.8" width="15.5" height="86.7" fill="#ff0000"/>
<rect x="1001.3" y="1673.8" width="15.5" height="15.7" fill="#00ff00"/>
<rect x="1014.8" y="1520.4" width="15.5" height="169.1" fill="#0000ff"/>
<rect x="1051.1" y="1587.3" width="15.5" height="102.2" fill="#000000"/>
<rect x="1064.6" y="1571.6" width="15.5" height="117.9" fill="#ff0000"/>
<rect x="1078.1" y="1671.6" width="15.5" height="17.9" fill="#00ff00"/>
<rect x="1091.6" y="1509.2" width="15.5" height="180.3" fill="#0000ff"/>
<rect x="1127.9" y="1572.7" width="15.5" height="116.8" fill="#000000"/>
<rect x="1141.4" y="1528.6" width="15.5" height="160.9" fill="#ff0000"/>
<rect x="1154.9" y="1667.3" width="15.5" height="22.2" fill="#00ff00"/>
<rect x="1168.4" y="1502.4" width="15.5" height="187.1" fill="#0000ff"/>
<rect x="1205.5" y="1564.7" width="15.5" height="124.8" fill="#000000"/>
<rect x="1219" y="1494.8" width="15.5" height="194.7" fill="#ff0000"/>
<rect x="1232.5" y="1665.2" width="15.5" height="24.3" fill="#00ff00"/>
<rect x="1246" y="1500.2" width="15.5" height="189.3" fill="#0000ff"/>
<line x1="855.85" y1="1665.88" x2="915.95" y2="1654.92" stroke="#ff0000" stroke-width="4.2"/>
<line x1="933.51" y1="1651.05" x2="993.59" y2="1635.55" stroke="#ff0000" stroke-width="4.2"/>
<line x1="1010.58" y1="1629.77" x2="1070.82" y2="1604.13" stroke="#ff0000" stroke-width="4.2"/>
<line x1="1084.88" y1="1593.7" x2="1150.12" y2="1515.9" stroke="#ff0000" stroke-width="4.2"/>
<line x1="1160.03" y1="1501.01" x2="1229.37" y2="1366.89" stroke="#ff0000" stroke-width="4.2"/>
<rect x="841" y="1661.5" width="12" height="12" fill="#ff0000"/>
<rect x="918.8" y="1647.3" width="12" height="12" fill="#ff0000"/>
<rect x="996.3" y="1627.3" width="12" height="12" fill="#ff0000"/>
<rect x="1073.1" y="1594.6" width="12" height="12" fill="#ff0000"/>
<rect x="1149.9" y="1503" width="12" height="12" fill="#ff0000"/>
<rect x="1227.5" y="1352.9" width="12" height="12" fill="#ff0000"/>
<line x1="853.15" y1="1501.87" x2="918.65" y2="1571.93" stroke="#0000ff" stroke-width="4.4"/>
<line x1="932.82" y1="1582.58" x2="994.28" y2="1613.79" stroke="#0000ff" stroke-width="4.4"/>
<line x1="1010.75" y1="1620.97" x2="1070.65" y2="1642.96" stroke="#0000ff" stroke-width="4.4"/>
<line x1="1087.71" y1="1648.69" x2="1147.29" y2="1666.87" stroke="#0000ff" stroke-width="4.4"/>
<line x1="1164.82" y1="1670.73" x2="1224.58" y2="1678.97" stroke="#0000ff" stroke-width="4.4"/>
<polygon points="847,1486.39 838.85,1500.51 855.15,1500.51" fill="#0000ff"/>
<polygon points="924.8,1569.59 916.65,1583.71 932.95,1583.71" fill="#0000ff"/>
<polygon points="1002.3,1608.96 994.15,1623.07 1010.45,1623.07" fill="#0000ff"/>
<polygon points="1079.1,1637.16 1070.95,1651.27 1087.25,1651.27" fill="#0000ff"/>
<polygon points="1155.9,1660.59 1147.75,1674.71 1164.05,1674.71" fill="#0000ff"/>
<polygon points="1233.5,1671.29 1225.35,1685.41 1241.65,1685.41" fill="#0000ff"/>
<line x1="808.9" y1="1334.1" x2="808.9" y2="1693" stroke="#000000" stroke-width="2"/>
<line x1="802.4" y1="1689.5" x2="808.9" y2="1689.5" stroke="#000000" stroke-width="2"/>
<text transform="translate(797.9 1697.9) scale(1 1.02)" font-size="27.3" fill="#000000" text-anchor="end" stroke="#000000" stroke-width="0.4">0</text>
<line x1="805.4" y1="1654.06" x2="808.9" y2="1654.06" stroke="#000000" stroke-width="2"/>
<line x1="802.4" y1="1618.62" x2="808.9" y2="1618.62" stroke="#000000" stroke-width="2"/>
<text transform="translate(797.9 1627.02) scale(1 1.02)" font-size="27.3" fill="#000000" text-anchor="end" stroke="#000000" stroke-width="0.4">10</text>
<line x1="805.4" y1="1583.18" x2="808.9" y2="1583.18" stroke="#000000" stroke-width="2"/>
<line x1="802.4" y1="1547.74" x2="808.9" y2="1547.74" stroke="#000000" stroke-width="2"/>
<text transform="translate(797.9 1556.14) scale(1 1.02)" font-size="27.3" fill="#000000" text-anchor="end" stroke="#000000" stroke-width="0.4">20</text>
<line x1="805.4" y1="1512.3" x2="808.9" y2="1512.3" stroke="#000000" stroke-width="2"/>
<line x1="802.4" y1="1476.86" x2="808.9" y2="1476.86" stroke="#000000" stroke-width="2"/>
<text transform="translate(797.9 1485.26) scale(1 1.02)" font-size="27.3" fill="#000000" text-anchor="end" stroke="#000000" stroke-width="0.4">30</text>
<line x1="805.4" y1="1441.42" x2="808.9" y2="1441.42" stroke="#000000" stroke-width="2"/>
<line x1="802.4" y1="1405.98" x2="808.9" y2="1405.98" stroke="#000000" stroke-width="2"/>
<text transform="translate(797.9 1414.38) scale(1 1.02)" font-size="27.3" fill="#000000" text-anchor="end" stroke="#000000" stroke-width="0.4">40</text>
<line x1="805.4" y1="1370.54" x2="808.9" y2="1370.54" stroke="#000000" stroke-width="2"/>
<line x1="802.4" y1="1335.1" x2="808.9" y2="1335.1" stroke="#000000" stroke-width="2"/>
<text transform="translate(797.9 1343.5) scale(1 1.02)" font-size="27.3" fill="#000000" text-anchor="end" stroke="#000000" stroke-width="0.4">50</text>
<line x1="802.4" y1="1689.5" x2="1272.9" y2="1689.5" stroke="#000000" stroke-width="2"/>
<line x1="808.9" y1="1689.5" x2="808.9" y2="1693" stroke="#000000" stroke-width="2"/>
<line x1="886.23" y1="1689.5" x2="886.23" y2="1693" stroke="#000000" stroke-width="2"/>
<line x1="963.57" y1="1689.5" x2="963.57" y2="1693" stroke="#000000" stroke-width="2"/>
<line x1="1040.9" y1="1689.5" x2="1040.9" y2="1693" stroke="#000000" stroke-width="2"/>
<line x1="1118.23" y1="1689.5" x2="1118.23" y2="1693" stroke="#000000" stroke-width="2"/>
<line x1="1195.57" y1="1689.5" x2="1195.57" y2="1693" stroke="#000000" stroke-width="2"/>
<line x1="1272.9" y1="1689.5" x2="1272.9" y2="1693" stroke="#000000" stroke-width="2"/>
<line x1="847" y1="1689.5" x2="847" y2="1696" stroke="#000000" stroke-width="2"/>
<text transform="translate(847.2 1721.7) scale(1 1.02)" font-size="27.3" fill="#000000" text-anchor="middle" stroke="#000000" stroke-width="0.4" letter-spacing="0.4">Historic</text>
<line x1="924.8" y1="1689.5" x2="924.8" y2="1696" stroke="#000000" stroke-width="2"/>
<text transform="translate(924.8 1721.7) scale(1 1.02)" font-size="27.3" fill="#000000" text-anchor="middle" stroke="#000000" stroke-width="0.4">5</text>
<line x1="1002.3" y1="1689.5" x2="1002.3" y2="1696" stroke="#000000" stroke-width="2"/>
<text transform="translate(1002.3 1721.7) scale(1 1.02)" font-size="27.3" fill="#000000" text-anchor="middle" stroke="#000000" stroke-width="0.4">10</text>
<line x1="1079.1" y1="1689.5" x2="1079.1" y2="1696" stroke="#000000" stroke-width="2"/>
<text transform="translate(1079.1 1721.7) scale(1 1.02)" font-size="27.3" fill="#000000" text-anchor="middle" stroke="#000000" stroke-width="0.4">20</text>
<line x1="1155.9" y1="1689.5" x2="1155.9" y2="1696" stroke="#000000" stroke-width="2"/>
<text transform="translate(1155.9 1721.7) scale(1 1.02)" font-size="27.3" fill="#000000" text-anchor="middle" stroke="#000000" stroke-width="0.4">50</text>
<line x1="1233.5" y1="1689.5" x2="1233.5" y2="1696" stroke="#000000" stroke-width="2"/>
<text transform="translate(1233.5 1721.7) scale(1 1.02)" font-size="27.3" fill="#000000" text-anchor="middle" stroke="#000000" stroke-width="0.4">100</text>
<line x1="1272.9" y1="1333.4" x2="1272.9" y2="1690.4" stroke="#ff0000" stroke-width="2"/>
<line x1="1272.9" y1="1689.4" x2="1279.4" y2="1689.4" stroke="#ff0000" stroke-width="2"/>
<text transform="translate(1283.2 1698.4) scale(1 1.02)" font-size="27.3" fill="#ff0000" text-anchor="start" stroke="#ff0000" stroke-width="0.4">0</text>
<line x1="1272.9" y1="1659.82" x2="1276.4" y2="1659.82" stroke="#ff0000" stroke-width="2"/>
<line x1="1272.9" y1="1630.23" x2="1279.4" y2="1630.23" stroke="#ff0000" stroke-width="2"/>
<text transform="translate(1283.2 1639.23) scale(1 1.02)" font-size="27.3" fill="#ff0000" text-anchor="start" stroke="#ff0000" stroke-width="0.4">5</text>
<line x1="1272.9" y1="1600.65" x2="1276.4" y2="1600.65" stroke="#ff0000" stroke-width="2"/>
<line x1="1272.9" y1="1571.07" x2="1279.4" y2="1571.07" stroke="#ff0000" stroke-width="2"/>
<text transform="translate(1283.2 1580.07) scale(1 1.02)" font-size="27.3" fill="#ff0000" text-anchor="start" stroke="#ff0000" stroke-width="0.4">10</text>
<line x1="1272.9" y1="1541.48" x2="1276.4" y2="1541.48" stroke="#ff0000" stroke-width="2"/>
<line x1="1272.9" y1="1511.9" x2="1279.4" y2="1511.9" stroke="#ff0000" stroke-width="2"/>
<text transform="translate(1283.2 1520.9) scale(1 1.02)" font-size="27.3" fill="#ff0000" text-anchor="start" stroke="#ff0000" stroke-width="0.4">15</text>
<line x1="1272.9" y1="1482.32" x2="1276.4" y2="1482.32" stroke="#ff0000" stroke-width="2"/>
<line x1="1272.9" y1="1452.73" x2="1279.4" y2="1452.73" stroke="#ff0000" stroke-width="2"/>
<text transform="translate(1283.2 1461.73) scale(1 1.02)" font-size="27.3" fill="#ff0000" text-anchor="start" stroke="#ff0000" stroke-width="0.4">20</text>
<line x1="1272.9" y1="1423.15" x2="1276.4" y2="1423.15" stroke="#ff0000" stroke-width="2"/>
<line x1="1272.9" y1="1393.57" x2="1279.4" y2="1393.57" stroke="#ff0000" stroke-width="2"/>
<text transform="translate(1283.2 1402.57) scale(1 1.02)" font-size="27.3" fill="#ff0000" text-anchor="start" stroke="#ff0000" stroke-width="0.4">25</text>
<line x1="1272.9" y1="1363.98" x2="1276.4" y2="1363.98" stroke="#ff0000" stroke-width="2"/>
<line x1="1272.9" y1="1334.4" x2="1279.4" y2="1334.4" stroke="#ff0000" stroke-width="2"/>
<text transform="translate(1283.2 1343.4) scale(1 1.02)" font-size="27.3" fill="#ff0000" text-anchor="start" stroke="#ff0000" stroke-width="0.4">30</text>
<line x1="1350.7" y1="1337.5" x2="1350.7" y2="1693.9" stroke="#0000ff" stroke-width="2"/>
<line x1="1350.7" y1="1692.9" x2="1357.2" y2="1692.9" stroke="#0000ff" stroke-width="2"/>
<text transform="translate(1361 1701.9) scale(1 1.02)" font-size="27.3" fill="#0000ff" text-anchor="start" stroke="#0000ff" stroke-width="0.4">0.0</text>
<line x1="1350.7" y1="1657.46" x2="1354.2" y2="1657.46" stroke="#0000ff" stroke-width="2"/>
<line x1="1350.7" y1="1622.02" x2="1357.2" y2="1622.02" stroke="#0000ff" stroke-width="2"/>
<text transform="translate(1361 1631.02) scale(1 1.02)" font-size="27.3" fill="#0000ff" text-anchor="start" stroke="#0000ff" stroke-width="0.4">0.2</text>
<line x1="1350.7" y1="1586.58" x2="1354.2" y2="1586.58" stroke="#0000ff" stroke-width="2"/>
<line x1="1350.7" y1="1551.14" x2="1357.2" y2="1551.14" stroke="#0000ff" stroke-width="2"/>
<text transform="translate(1361 1560.14) scale(1 1.02)" font-size="27.3" fill="#0000ff" text-anchor="start" stroke="#0000ff" stroke-width="0.4">0.4</text>
<line x1="1350.7" y1="1515.7" x2="1354.2" y2="1515.7" stroke="#0000ff" stroke-width="2"/>
<line x1="1350.7" y1="1480.26" x2="1357.2" y2="1480.26" stroke="#0000ff" stroke-width="2"/>
<text transform="translate(1361 1489.26) scale(1 1.02)" font-size="27.3" fill="#0000ff" text-anchor="start" stroke="#0000ff" stroke-width="0.4">0.6</text>
<line x1="1350.7" y1="1444.82" x2="1354.2" y2="1444.82" stroke="#0000ff" stroke-width="2"/>
<line x1="1350.7" y1="1409.38" x2="1357.2" y2="1409.38" stroke="#0000ff" stroke-width="2"/>
<text transform="translate(1361 1418.38) scale(1 1.02)" font-size="27.3" fill="#0000ff" text-anchor="start" stroke="#0000ff" stroke-width="0.4">0.8</text>
<line x1="1350.7" y1="1373.94" x2="1354.2" y2="1373.94" stroke="#0000ff" stroke-width="2"/>
<line x1="1350.7" y1="1338.5" x2="1357.2" y2="1338.5" stroke="#0000ff" stroke-width="2"/>
<text transform="translate(1361 1347.5) scale(1 1.02)" font-size="27.3" fill="#0000ff" text-anchor="start" stroke="#0000ff" stroke-width="0.4">1.0</text>
<text transform="translate(755.6 1508.6) rotate(-90) scale(1 1.02)" font-size="32" fill="#000000" text-anchor="middle" stroke="#000000" stroke-width="0.4">Drought variable</text>
<text transform="translate(1343.7 1514.2) rotate(-90) scale(1 1.02)" font-size="32.2" fill="#000000" text-anchor="middle" stroke="#000000" stroke-width="0.4">Return period</text>
<text transform="translate(1430.7 1516) rotate(-90) scale(1 1.02)" font-size="32.2" fill="#000000" text-anchor="middle" stroke="#000000" stroke-width="0.4">Probability</text>
<text transform="translate(988.5 1386.7) scale(1 1.02)" font-size="39" fill="#000000" text-anchor="start" font-weight="bold" stroke="#000000" stroke-width="0.3">EMC</text>
<text transform="translate(306.2 1758.2) scale(1 1.02)" font-size="31.8" fill="#000000" text-anchor="middle" font-weight="bold" stroke="#000000" stroke-width="0.3">Time period (Year)</text>
<text transform="translate(1040.1 1760.3) scale(1 1.02)" font-size="32" fill="#000000" text-anchor="middle" font-weight="bold" stroke="#000000" stroke-width="0.3">Time period (Year)</text>
</svg>
</body></html>
